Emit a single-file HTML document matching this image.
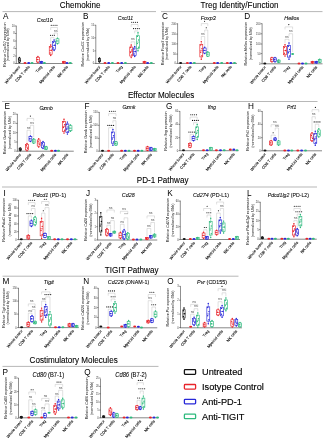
<!DOCTYPE html>
<html><head><meta charset="utf-8"><style>
html,body{margin:0;padding:0;background:#fff;}
svg{display:block;font-family:"Liberation Sans", sans-serif;will-change:transform;filter:blur(0.3px);}
</style></head><body>
<svg width="324" height="440" viewBox="0 0 324 440">
<rect width="324" height="440" fill="#fff"/>
<text transform="translate(80.15,7.70) scale(1,1.18)" font-size="8.1" text-anchor="middle" fill="#000" stroke="#000" stroke-width="0.08">Chemokine</text>
<line x1="2.50" y1="11.60" x2="156.00" y2="11.60" stroke="#9a9a9a" stroke-width="0.7"/>
<text transform="translate(239.55,7.70) scale(1,1.18)" font-size="8.1" text-anchor="middle" fill="#000" stroke="#000" stroke-width="0.08">Treg Identity/Function</text>
<line x1="161.00" y1="11.60" x2="322.50" y2="11.60" stroke="#9a9a9a" stroke-width="0.7"/>
<text transform="translate(161.10,97.50) scale(1,1.18)" font-size="8.1" text-anchor="middle" fill="#000" stroke="#000" stroke-width="0.08">Effector Molecules</text>
<line x1="2.00" y1="101.50" x2="317.50" y2="101.50" stroke="#9a9a9a" stroke-width="0.7"/>
<text transform="translate(162.60,183.40) scale(1,1.18)" font-size="8.1" text-anchor="middle" fill="#000" stroke="#000" stroke-width="0.08">PD-1 Pathway</text>
<line x1="2.00" y1="187.00" x2="317.00" y2="187.00" stroke="#9a9a9a" stroke-width="0.7"/>
<text transform="translate(131.60,272.60) scale(1,1.18)" font-size="8.1" text-anchor="middle" fill="#000" stroke="#000" stroke-width="0.08">TIGIT Pathway</text>
<line x1="2.50" y1="276.20" x2="238.50" y2="276.20" stroke="#9a9a9a" stroke-width="0.7"/>
<text transform="translate(73.65,363.40) scale(1,1.18)" font-size="8.1" text-anchor="middle" fill="#000" stroke="#000" stroke-width="0.08">Costimulatory Molecules</text>
<line x1="2.50" y1="366.40" x2="158.50" y2="366.40" stroke="#9a9a9a" stroke-width="0.7"/>
<text x="3.00" y="19.00" font-size="8.2" text-anchor="start" fill="#000">A</text>
<text transform="translate(44.60,21.60) scale(1,1.1)" font-size="5.2" text-anchor="middle" fill="#000" stroke="#000" stroke-width="0.07"><tspan font-style="italic">Cxcl10</tspan></text>
<line x1="16.30" y1="25.70" x2="16.30" y2="63.80" stroke="#444" stroke-width="0.6"/>
<line x1="16.30" y1="63.50" x2="72.50" y2="63.50" stroke="#555" stroke-width="0.7"/>
<line x1="14.90" y1="26.00" x2="16.30" y2="26.00" stroke="#222" stroke-width="0.5"/>
<text x="14.60" y="26.95" font-size="2.6" text-anchor="end" fill="#333">10</text>
<line x1="14.90" y1="33.50" x2="16.30" y2="33.50" stroke="#222" stroke-width="0.5"/>
<text x="14.60" y="34.45" font-size="2.6" text-anchor="end" fill="#333">8</text>
<line x1="14.90" y1="41.00" x2="16.30" y2="41.00" stroke="#222" stroke-width="0.5"/>
<text x="14.60" y="41.95" font-size="2.6" text-anchor="end" fill="#333">6</text>
<line x1="14.90" y1="48.50" x2="16.30" y2="48.50" stroke="#222" stroke-width="0.5"/>
<text x="14.60" y="49.45" font-size="2.6" text-anchor="end" fill="#333">4</text>
<line x1="14.90" y1="56.00" x2="16.30" y2="56.00" stroke="#222" stroke-width="0.5"/>
<text x="14.60" y="56.95" font-size="2.6" text-anchor="end" fill="#333">2</text>
<line x1="14.90" y1="63.50" x2="16.30" y2="63.50" stroke="#222" stroke-width="0.5"/>
<text x="14.60" y="64.45" font-size="2.6" text-anchor="end" fill="#333">0</text>
<text transform="translate(5.60,44.75) rotate(-90)" font-size="3.7" text-anchor="middle" fill="#111">Relative <tspan font-style="italic">Cxcl10</tspan> expression</text>
<text transform="translate(9.30,44.75) rotate(-90)" font-size="3.7" text-anchor="middle" fill="#111">(normalized by <tspan font-style="italic">Ubb</tspan>)</text>
<text transform="translate(20.60,67.00) rotate(-50)" font-size="3.9" text-anchor="end" fill="#000" stroke="#000" stroke-width="0.1">Whole tumor</text>
<text transform="translate(29.90,67.00) rotate(-50)" font-size="3.9" text-anchor="end" fill="#000" stroke="#000" stroke-width="0.1">CD8 T cells</text>
<text transform="translate(42.50,67.00) rotate(-50)" font-size="3.9" text-anchor="end" fill="#000" stroke="#000" stroke-width="0.1">Treg</text>
<text transform="translate(55.30,67.00) rotate(-50)" font-size="3.9" text-anchor="end" fill="#000" stroke="#000" stroke-width="0.1">Myeloid cells</text>
<text transform="translate(68.20,67.00) rotate(-50)" font-size="3.9" text-anchor="end" fill="#000" stroke="#000" stroke-width="0.1">NK cells</text>
<line x1="50.70" y1="27.50" x2="57.50" y2="27.50" stroke="#b4b4b4" stroke-width="0.4"/>
<line x1="50.70" y1="27.50" x2="50.70" y2="30.00" stroke="#b4b4b4" stroke-width="0.4"/>
<line x1="57.50" y1="27.50" x2="57.50" y2="30.00" stroke="#b4b4b4" stroke-width="0.4"/>
<circle cx="51.25" cy="25.20" r="0.56" fill="#000"/>
<circle cx="53.15" cy="25.20" r="0.56" fill="#000"/>
<circle cx="55.05" cy="25.20" r="0.56" fill="#000"/>
<circle cx="56.95" cy="25.20" r="0.56" fill="#000"/>
<line x1="54.10" y1="33.00" x2="57.50" y2="33.00" stroke="#b4b4b4" stroke-width="0.4"/>
<line x1="54.10" y1="33.00" x2="54.10" y2="35.50" stroke="#b4b4b4" stroke-width="0.4"/>
<line x1="57.50" y1="33.00" x2="57.50" y2="36.60" stroke="#b4b4b4" stroke-width="0.4"/>
<text x="55.80" y="31.50" font-size="3.3" text-anchor="middle" fill="#444">ns</text>
<line x1="50.70" y1="37.60" x2="54.10" y2="37.60" stroke="#b4b4b4" stroke-width="0.4"/>
<line x1="50.70" y1="37.60" x2="50.70" y2="43.50" stroke="#b4b4b4" stroke-width="0.4"/>
<line x1="54.10" y1="37.60" x2="54.10" y2="38.60" stroke="#b4b4b4" stroke-width="0.4"/>
<circle cx="50.50" cy="35.30" r="0.56" fill="#000"/>
<circle cx="52.40" cy="35.30" r="0.56" fill="#000"/>
<circle cx="54.30" cy="35.30" r="0.56" fill="#000"/>
<line x1="19.40" y1="57.00" x2="19.40" y2="63.00" stroke="#111111" stroke-width="0.5"/>
<rect x="18.30" y="58.08" width="2.2" height="4.02" fill="#fff" stroke="#111111" stroke-width="0.65"/>
<line x1="18.30" y1="60.09" x2="20.50" y2="60.09" stroke="#111111" stroke-width="0.6"/>
<circle cx="19.40" cy="57.50" r="0.72" fill="#111111"/>
<circle cx="18.80" cy="59.17" r="0.72" fill="#111111"/>
<circle cx="20.00" cy="60.83" r="0.72" fill="#111111"/>
<circle cx="19.40" cy="62.50" r="0.72" fill="#111111"/>
<ellipse cx="25.00" cy="63.10" rx="1.5" ry="1.0" fill="#e8242b"/>
<ellipse cx="28.70" cy="63.10" rx="1.5" ry="1.0" fill="#2828d8"/>
<ellipse cx="32.00" cy="63.10" rx="1.5" ry="1.0" fill="#2fba7e"/>
<line x1="37.90" y1="56.00" x2="37.90" y2="63.00" stroke="#e8242b" stroke-width="0.5"/>
<rect x="36.45" y="57.26" width="2.9" height="4.69" fill="#fff" stroke="#e8242b" stroke-width="0.65"/>
<line x1="36.45" y1="59.61" x2="39.35" y2="59.61" stroke="#e8242b" stroke-width="0.6"/>
<circle cx="37.90" cy="56.50" r="0.72" fill="#e8242b"/>
<circle cx="37.30" cy="59.50" r="0.72" fill="#e8242b"/>
<circle cx="37.90" cy="62.50" r="0.72" fill="#e8242b"/>
<line x1="41.30" y1="61.00" x2="41.30" y2="63.50" stroke="#2828d8" stroke-width="0.5"/>
<rect x="39.85" y="61.45" width="2.9" height="1.67" fill="#fff" stroke="#2828d8" stroke-width="0.65"/>
<line x1="39.85" y1="62.29" x2="42.75" y2="62.29" stroke="#2828d8" stroke-width="0.6"/>
<circle cx="41.30" cy="61.50" r="0.72" fill="#2828d8"/>
<circle cx="40.70" cy="62.25" r="0.72" fill="#2828d8"/>
<circle cx="41.30" cy="63.00" r="0.72" fill="#2828d8"/>
<ellipse cx="44.40" cy="63.10" rx="1.5" ry="1.0" fill="#2fba7e"/>
<line x1="50.70" y1="44.50" x2="50.70" y2="56.00" stroke="#e8242b" stroke-width="0.5"/>
<rect x="49.25" y="46.57" width="2.9" height="7.70" fill="#fff" stroke="#e8242b" stroke-width="0.65"/>
<line x1="49.25" y1="50.42" x2="52.15" y2="50.42" stroke="#e8242b" stroke-width="0.6"/>
<circle cx="50.70" cy="45.00" r="0.72" fill="#e8242b"/>
<circle cx="50.10" cy="47.62" r="0.72" fill="#e8242b"/>
<circle cx="51.30" cy="50.25" r="0.72" fill="#e8242b"/>
<circle cx="50.10" cy="52.88" r="0.72" fill="#e8242b"/>
<circle cx="50.70" cy="55.50" r="0.72" fill="#e8242b"/>
<line x1="54.10" y1="39.50" x2="54.10" y2="51.00" stroke="#2828d8" stroke-width="0.5"/>
<rect x="52.65" y="41.57" width="2.9" height="7.70" fill="#fff" stroke="#2828d8" stroke-width="0.65"/>
<line x1="52.65" y1="45.42" x2="55.55" y2="45.42" stroke="#2828d8" stroke-width="0.6"/>
<circle cx="54.10" cy="40.00" r="0.72" fill="#2828d8"/>
<circle cx="53.50" cy="42.62" r="0.72" fill="#2828d8"/>
<circle cx="54.70" cy="45.25" r="0.72" fill="#2828d8"/>
<circle cx="53.50" cy="47.88" r="0.72" fill="#2828d8"/>
<circle cx="54.10" cy="50.50" r="0.72" fill="#2828d8"/>
<line x1="57.50" y1="37.60" x2="57.50" y2="44.20" stroke="#2fba7e" stroke-width="0.5"/>
<rect x="56.05" y="38.79" width="2.9" height="4.42" fill="#fff" stroke="#2fba7e" stroke-width="0.65"/>
<line x1="56.05" y1="41.00" x2="58.95" y2="41.00" stroke="#2fba7e" stroke-width="0.6"/>
<circle cx="57.50" cy="38.10" r="0.72" fill="#2fba7e"/>
<circle cx="56.90" cy="40.90" r="0.72" fill="#2fba7e"/>
<circle cx="57.50" cy="43.70" r="0.72" fill="#2fba7e"/>
<line x1="63.90" y1="61.00" x2="63.90" y2="63.50" stroke="#e8242b" stroke-width="0.5"/>
<rect x="62.45" y="61.45" width="2.9" height="1.67" fill="#fff" stroke="#e8242b" stroke-width="0.65"/>
<line x1="62.45" y1="62.29" x2="65.35" y2="62.29" stroke="#e8242b" stroke-width="0.6"/>
<circle cx="63.90" cy="61.50" r="0.72" fill="#e8242b"/>
<circle cx="63.30" cy="62.25" r="0.72" fill="#e8242b"/>
<circle cx="63.90" cy="63.00" r="0.72" fill="#e8242b"/>
<ellipse cx="67.00" cy="63.10" rx="1.5" ry="1.0" fill="#2828d8"/>
<ellipse cx="70.30" cy="63.10" rx="1.5" ry="1.0" fill="#2fba7e"/>
<text x="83.00" y="19.00" font-size="8.2" text-anchor="start" fill="#000">B</text>
<text transform="translate(125.40,20.40) scale(1,1.1)" font-size="5.2" text-anchor="middle" fill="#000" stroke="#000" stroke-width="0.07"><tspan font-style="italic">Cxcl11</tspan></text>
<line x1="95.80" y1="24.90" x2="95.80" y2="63.80" stroke="#444" stroke-width="0.6"/>
<line x1="95.80" y1="63.50" x2="154.75" y2="63.50" stroke="#555" stroke-width="0.7"/>
<line x1="94.40" y1="25.20" x2="95.80" y2="25.20" stroke="#222" stroke-width="0.5"/>
<text x="94.10" y="26.15" font-size="2.6" text-anchor="end" fill="#333">15</text>
<line x1="94.40" y1="37.90" x2="95.80" y2="37.90" stroke="#222" stroke-width="0.5"/>
<text x="94.10" y="38.85" font-size="2.6" text-anchor="end" fill="#333">10</text>
<line x1="94.40" y1="50.90" x2="95.80" y2="50.90" stroke="#222" stroke-width="0.5"/>
<text x="94.10" y="51.85" font-size="2.6" text-anchor="end" fill="#333">5</text>
<line x1="94.40" y1="63.50" x2="95.80" y2="63.50" stroke="#222" stroke-width="0.5"/>
<text x="94.10" y="64.45" font-size="2.6" text-anchor="end" fill="#333">0</text>
<text transform="translate(84.20,44.35) rotate(-90)" font-size="3.7" text-anchor="middle" fill="#111">Relative <tspan font-style="italic">Cxcl11</tspan> expression</text>
<text transform="translate(88.50,44.35) rotate(-90)" font-size="3.7" text-anchor="middle" fill="#111">(normalized by <tspan font-style="italic">Ubb</tspan>)</text>
<text transform="translate(100.70,67.00) rotate(-50)" font-size="3.9" text-anchor="end" fill="#000" stroke="#000" stroke-width="0.1">Whole tumor</text>
<text transform="translate(109.90,67.00) rotate(-50)" font-size="3.9" text-anchor="end" fill="#000" stroke="#000" stroke-width="0.1">CD8 T cells</text>
<text transform="translate(122.90,67.00) rotate(-50)" font-size="3.9" text-anchor="end" fill="#000" stroke="#000" stroke-width="0.1">Treg</text>
<text transform="translate(135.90,67.00) rotate(-50)" font-size="3.9" text-anchor="end" fill="#000" stroke="#000" stroke-width="0.1">Myeloid cells</text>
<text transform="translate(148.80,67.00) rotate(-50)" font-size="3.9" text-anchor="end" fill="#000" stroke="#000" stroke-width="0.1">NK cells</text>
<line x1="131.20" y1="24.50" x2="138.00" y2="24.50" stroke="#b4b4b4" stroke-width="0.4"/>
<line x1="131.20" y1="24.50" x2="131.20" y2="27.00" stroke="#b4b4b4" stroke-width="0.4"/>
<line x1="138.00" y1="24.50" x2="138.00" y2="27.00" stroke="#b4b4b4" stroke-width="0.4"/>
<circle cx="131.75" cy="22.20" r="0.56" fill="#000"/>
<circle cx="133.65" cy="22.20" r="0.56" fill="#000"/>
<circle cx="135.55" cy="22.20" r="0.56" fill="#000"/>
<circle cx="137.45" cy="22.20" r="0.56" fill="#000"/>
<line x1="134.70" y1="30.90" x2="138.00" y2="30.90" stroke="#b4b4b4" stroke-width="0.4"/>
<line x1="134.70" y1="30.90" x2="134.70" y2="33.40" stroke="#b4b4b4" stroke-width="0.4"/>
<line x1="138.00" y1="30.90" x2="138.00" y2="31.90" stroke="#b4b4b4" stroke-width="0.4"/>
<circle cx="133.50" cy="28.60" r="0.56" fill="#000"/>
<circle cx="135.40" cy="28.60" r="0.56" fill="#000"/>
<circle cx="137.30" cy="28.60" r="0.56" fill="#000"/>
<circle cx="139.20" cy="28.60" r="0.56" fill="#000"/>
<line x1="131.20" y1="41.80" x2="134.70" y2="41.80" stroke="#b4b4b4" stroke-width="0.4"/>
<line x1="131.20" y1="41.80" x2="131.20" y2="43.50" stroke="#b4b4b4" stroke-width="0.4"/>
<line x1="134.70" y1="41.80" x2="134.70" y2="45.00" stroke="#b4b4b4" stroke-width="0.4"/>
<text x="132.95" y="40.30" font-size="3.3" text-anchor="middle" fill="#444">ns</text>
<line x1="99.50" y1="57.50" x2="99.50" y2="62.50" stroke="#111111" stroke-width="0.5"/>
<rect x="98.40" y="58.40" width="2.2" height="3.35" fill="#fff" stroke="#111111" stroke-width="0.65"/>
<line x1="98.40" y1="60.08" x2="100.60" y2="60.08" stroke="#111111" stroke-width="0.6"/>
<circle cx="99.50" cy="58.00" r="0.72" fill="#111111"/>
<circle cx="98.90" cy="59.33" r="0.72" fill="#111111"/>
<circle cx="100.10" cy="60.67" r="0.72" fill="#111111"/>
<circle cx="99.50" cy="62.00" r="0.72" fill="#111111"/>
<ellipse cx="105.00" cy="63.10" rx="1.5" ry="1.0" fill="#e8242b"/>
<ellipse cx="108.70" cy="63.10" rx="1.5" ry="1.0" fill="#2828d8"/>
<ellipse cx="112.40" cy="63.10" rx="1.5" ry="1.0" fill="#2fba7e"/>
<ellipse cx="118.00" cy="63.10" rx="1.5" ry="1.0" fill="#e8242b"/>
<ellipse cx="121.70" cy="63.10" rx="1.5" ry="1.0" fill="#2828d8"/>
<ellipse cx="125.40" cy="63.10" rx="1.5" ry="1.0" fill="#2fba7e"/>
<line x1="131.20" y1="44.50" x2="131.20" y2="58.10" stroke="#e8242b" stroke-width="0.5"/>
<rect x="129.75" y="46.95" width="2.9" height="9.11" fill="#fff" stroke="#e8242b" stroke-width="0.65"/>
<line x1="129.75" y1="51.50" x2="132.65" y2="51.50" stroke="#e8242b" stroke-width="0.6"/>
<circle cx="131.20" cy="45.00" r="0.72" fill="#e8242b"/>
<circle cx="130.60" cy="47.52" r="0.72" fill="#e8242b"/>
<circle cx="131.80" cy="50.04" r="0.72" fill="#e8242b"/>
<circle cx="130.60" cy="52.56" r="0.72" fill="#e8242b"/>
<circle cx="131.80" cy="55.08" r="0.72" fill="#e8242b"/>
<circle cx="131.20" cy="57.60" r="0.72" fill="#e8242b"/>
<line x1="134.70" y1="46.00" x2="134.70" y2="57.00" stroke="#2828d8" stroke-width="0.5"/>
<rect x="133.25" y="47.98" width="2.9" height="7.37" fill="#fff" stroke="#2828d8" stroke-width="0.65"/>
<line x1="133.25" y1="51.66" x2="136.15" y2="51.66" stroke="#2828d8" stroke-width="0.6"/>
<circle cx="134.70" cy="46.50" r="0.72" fill="#2828d8"/>
<circle cx="134.10" cy="49.00" r="0.72" fill="#2828d8"/>
<circle cx="135.30" cy="51.50" r="0.72" fill="#2828d8"/>
<circle cx="134.10" cy="54.00" r="0.72" fill="#2828d8"/>
<circle cx="134.70" cy="56.50" r="0.72" fill="#2828d8"/>
<line x1="138.00" y1="32.30" x2="138.00" y2="51.30" stroke="#2fba7e" stroke-width="0.5"/>
<rect x="136.55" y="35.72" width="2.9" height="12.73" fill="#fff" stroke="#2fba7e" stroke-width="0.65"/>
<line x1="136.55" y1="42.08" x2="139.45" y2="42.08" stroke="#2fba7e" stroke-width="0.6"/>
<circle cx="138.00" cy="32.80" r="0.72" fill="#2fba7e"/>
<circle cx="137.40" cy="36.40" r="0.72" fill="#2fba7e"/>
<circle cx="138.60" cy="40.00" r="0.72" fill="#2fba7e"/>
<circle cx="137.40" cy="43.60" r="0.72" fill="#2fba7e"/>
<circle cx="138.60" cy="47.20" r="0.72" fill="#2fba7e"/>
<circle cx="138.00" cy="50.80" r="0.72" fill="#2fba7e"/>
<line x1="144.50" y1="61.00" x2="144.50" y2="63.50" stroke="#e8242b" stroke-width="0.5"/>
<rect x="143.05" y="61.45" width="2.9" height="1.67" fill="#fff" stroke="#e8242b" stroke-width="0.65"/>
<line x1="143.05" y1="62.29" x2="145.95" y2="62.29" stroke="#e8242b" stroke-width="0.6"/>
<circle cx="144.50" cy="61.50" r="0.72" fill="#e8242b"/>
<circle cx="143.90" cy="62.25" r="0.72" fill="#e8242b"/>
<circle cx="144.50" cy="63.00" r="0.72" fill="#e8242b"/>
<ellipse cx="147.60" cy="63.10" rx="1.5" ry="1.0" fill="#2828d8"/>
<ellipse cx="151.30" cy="63.10" rx="1.5" ry="1.0" fill="#2fba7e"/>
<text x="162.00" y="19.00" font-size="8.2" text-anchor="start" fill="#000">C</text>
<text transform="translate(208.25,19.80) scale(1,1.1)" font-size="5.4" text-anchor="middle" fill="#000" stroke="#000" stroke-width="0.07"><tspan font-style="italic">Foxp3</tspan></text>
<line x1="177.60" y1="23.30" x2="177.60" y2="63.70" stroke="#444" stroke-width="0.6"/>
<line x1="177.60" y1="63.40" x2="237.00" y2="63.40" stroke="#555" stroke-width="0.7"/>
<line x1="176.20" y1="23.90" x2="177.60" y2="23.90" stroke="#222" stroke-width="0.5"/>
<text x="175.90" y="24.85" font-size="2.6" text-anchor="end" fill="#333">200</text>
<line x1="176.20" y1="34.10" x2="177.60" y2="34.10" stroke="#222" stroke-width="0.5"/>
<text x="175.90" y="35.05" font-size="2.6" text-anchor="end" fill="#333">150</text>
<line x1="176.20" y1="43.90" x2="177.60" y2="43.90" stroke="#222" stroke-width="0.5"/>
<text x="175.90" y="44.85" font-size="2.6" text-anchor="end" fill="#333">100</text>
<line x1="176.20" y1="54.10" x2="177.60" y2="54.10" stroke="#222" stroke-width="0.5"/>
<text x="175.90" y="55.05" font-size="2.6" text-anchor="end" fill="#333">50</text>
<line x1="176.20" y1="63.40" x2="177.60" y2="63.40" stroke="#222" stroke-width="0.5"/>
<text x="175.90" y="64.35" font-size="2.6" text-anchor="end" fill="#333">0</text>
<text transform="translate(163.50,43.50) rotate(-90)" font-size="3.7" text-anchor="middle" fill="#111">Relative <tspan font-style="italic">Foxp3</tspan> expression</text>
<text transform="translate(168.20,43.50) rotate(-90)" font-size="3.7" text-anchor="middle" fill="#111">(normalized by <tspan font-style="italic">Ubb</tspan>)</text>
<text transform="translate(181.80,66.90) rotate(-50)" font-size="3.9" text-anchor="end" fill="#000" stroke="#000" stroke-width="0.1">Whole tumor</text>
<text transform="translate(191.80,66.90) rotate(-50)" font-size="3.9" text-anchor="end" fill="#000" stroke="#000" stroke-width="0.1">CD8 T cells</text>
<text transform="translate(205.90,66.90) rotate(-50)" font-size="3.9" text-anchor="end" fill="#000" stroke="#000" stroke-width="0.1">Treg</text>
<text transform="translate(218.80,66.90) rotate(-50)" font-size="3.9" text-anchor="end" fill="#000" stroke="#000" stroke-width="0.1">Myeloid cells</text>
<text transform="translate(232.00,66.90) rotate(-50)" font-size="3.9" text-anchor="end" fill="#000" stroke="#000" stroke-width="0.1">NK cells</text>
<line x1="201.30" y1="23.60" x2="207.80" y2="23.60" stroke="#b4b4b4" stroke-width="0.4"/>
<line x1="201.30" y1="23.60" x2="201.30" y2="26.10" stroke="#b4b4b4" stroke-width="0.4"/>
<line x1="207.80" y1="23.60" x2="207.80" y2="26.10" stroke="#b4b4b4" stroke-width="0.4"/>
<circle cx="204.55" cy="21.30" r="0.56" fill="#000"/>
<line x1="204.70" y1="30.00" x2="207.80" y2="30.00" stroke="#b4b4b4" stroke-width="0.4"/>
<line x1="204.70" y1="30.00" x2="204.70" y2="32.50" stroke="#b4b4b4" stroke-width="0.4"/>
<line x1="207.80" y1="30.00" x2="207.80" y2="50.30" stroke="#b4b4b4" stroke-width="0.4"/>
<circle cx="206.25" cy="27.70" r="0.56" fill="#000"/>
<line x1="201.30" y1="36.50" x2="204.70" y2="36.50" stroke="#b4b4b4" stroke-width="0.4"/>
<line x1="201.30" y1="36.50" x2="201.30" y2="40.10" stroke="#b4b4b4" stroke-width="0.4"/>
<line x1="204.70" y1="36.50" x2="204.70" y2="45.70" stroke="#b4b4b4" stroke-width="0.4"/>
<text x="203.00" y="35.00" font-size="3.3" text-anchor="middle" fill="#444">ns</text>
<ellipse cx="180.60" cy="63.00" rx="1.5" ry="1.0" fill="#111111"/>
<ellipse cx="187.40" cy="63.00" rx="1.5" ry="1.0" fill="#e8242b"/>
<ellipse cx="190.60" cy="63.00" rx="1.5" ry="1.0" fill="#2828d8"/>
<ellipse cx="194.30" cy="63.00" rx="1.5" ry="1.0" fill="#2fba7e"/>
<line x1="201.30" y1="41.10" x2="201.30" y2="59.70" stroke="#e8242b" stroke-width="0.5"/>
<rect x="199.85" y="44.45" width="2.9" height="12.46" fill="#fff" stroke="#e8242b" stroke-width="0.65"/>
<line x1="199.85" y1="50.68" x2="202.75" y2="50.68" stroke="#e8242b" stroke-width="0.6"/>
<circle cx="201.30" cy="41.60" r="0.72" fill="#e8242b"/>
<circle cx="200.70" cy="45.12" r="0.72" fill="#e8242b"/>
<circle cx="201.90" cy="48.64" r="0.72" fill="#e8242b"/>
<circle cx="200.70" cy="52.16" r="0.72" fill="#e8242b"/>
<circle cx="201.90" cy="55.68" r="0.72" fill="#e8242b"/>
<circle cx="201.30" cy="59.20" r="0.72" fill="#e8242b"/>
<line x1="204.70" y1="46.70" x2="204.70" y2="54.10" stroke="#2828d8" stroke-width="0.5"/>
<rect x="203.25" y="48.03" width="2.9" height="4.96" fill="#fff" stroke="#2828d8" stroke-width="0.65"/>
<line x1="203.25" y1="50.51" x2="206.15" y2="50.51" stroke="#2828d8" stroke-width="0.6"/>
<circle cx="204.70" cy="47.20" r="0.72" fill="#2828d8"/>
<circle cx="204.10" cy="50.40" r="0.72" fill="#2828d8"/>
<circle cx="204.70" cy="53.60" r="0.72" fill="#2828d8"/>
<line x1="207.80" y1="51.30" x2="207.80" y2="56.90" stroke="#2fba7e" stroke-width="0.5"/>
<rect x="206.35" y="52.31" width="2.9" height="3.75" fill="#fff" stroke="#2fba7e" stroke-width="0.65"/>
<line x1="206.35" y1="54.18" x2="209.25" y2="54.18" stroke="#2fba7e" stroke-width="0.6"/>
<circle cx="207.80" cy="51.80" r="0.72" fill="#2fba7e"/>
<circle cx="207.20" cy="54.10" r="0.72" fill="#2fba7e"/>
<circle cx="207.80" cy="56.40" r="0.72" fill="#2fba7e"/>
<ellipse cx="214.30" cy="63.00" rx="1.5" ry="1.0" fill="#e8242b"/>
<ellipse cx="217.60" cy="63.00" rx="1.5" ry="1.0" fill="#2828d8"/>
<ellipse cx="221.70" cy="63.00" rx="1.5" ry="1.0" fill="#2fba7e"/>
<ellipse cx="227.30" cy="63.00" rx="1.5" ry="1.0" fill="#e8242b"/>
<ellipse cx="230.80" cy="63.00" rx="1.5" ry="1.0" fill="#2828d8"/>
<ellipse cx="234.50" cy="63.00" rx="1.5" ry="1.0" fill="#2fba7e"/>
<text x="244.30" y="19.00" font-size="8.2" text-anchor="start" fill="#000">D</text>
<text transform="translate(291.75,19.80) scale(1,1.1)" font-size="5.4" text-anchor="middle" fill="#000" stroke="#000" stroke-width="0.07"><tspan font-style="italic">Helios</tspan></text>
<line x1="262.10" y1="23.40" x2="262.10" y2="64.10" stroke="#444" stroke-width="0.6"/>
<line x1="262.10" y1="63.80" x2="322.50" y2="63.80" stroke="#555" stroke-width="0.7"/>
<line x1="260.70" y1="23.70" x2="262.10" y2="23.70" stroke="#222" stroke-width="0.5"/>
<text x="260.40" y="24.65" font-size="2.6" text-anchor="end" fill="#333">200</text>
<line x1="260.70" y1="33.80" x2="262.10" y2="33.80" stroke="#222" stroke-width="0.5"/>
<text x="260.40" y="34.75" font-size="2.6" text-anchor="end" fill="#333">150</text>
<line x1="260.70" y1="44.00" x2="262.10" y2="44.00" stroke="#222" stroke-width="0.5"/>
<text x="260.40" y="44.95" font-size="2.6" text-anchor="end" fill="#333">100</text>
<line x1="260.70" y1="53.60" x2="262.10" y2="53.60" stroke="#222" stroke-width="0.5"/>
<text x="260.40" y="54.55" font-size="2.6" text-anchor="end" fill="#333">50</text>
<line x1="260.70" y1="63.80" x2="262.10" y2="63.80" stroke="#222" stroke-width="0.5"/>
<text x="260.40" y="64.75" font-size="2.6" text-anchor="end" fill="#333">0</text>
<text transform="translate(247.40,43.75) rotate(-90)" font-size="3.7" text-anchor="middle" fill="#111">Relative <tspan font-style="italic">Helios</tspan> expression</text>
<text transform="translate(251.70,43.75) rotate(-90)" font-size="3.7" text-anchor="middle" fill="#111">(normalized by <tspan font-style="italic">Ubb</tspan>)</text>
<text transform="translate(266.00,67.30) rotate(-50)" font-size="3.9" text-anchor="end" fill="#000" stroke="#000" stroke-width="0.1">Whole tumor</text>
<text transform="translate(276.20,67.30) rotate(-50)" font-size="3.9" text-anchor="end" fill="#000" stroke="#000" stroke-width="0.1">CD8 T cells</text>
<text transform="translate(290.20,67.30) rotate(-50)" font-size="3.9" text-anchor="end" fill="#000" stroke="#000" stroke-width="0.1">Treg</text>
<text transform="translate(303.70,67.30) rotate(-50)" font-size="3.9" text-anchor="end" fill="#000" stroke="#000" stroke-width="0.1">Myeloid cells</text>
<text transform="translate(317.50,67.30) rotate(-50)" font-size="3.9" text-anchor="end" fill="#000" stroke="#000" stroke-width="0.1">NK cells</text>
<line x1="285.00" y1="26.90" x2="292.60" y2="26.90" stroke="#b4b4b4" stroke-width="0.4"/>
<line x1="285.00" y1="26.90" x2="285.00" y2="29.40" stroke="#b4b4b4" stroke-width="0.4"/>
<line x1="292.60" y1="26.90" x2="292.60" y2="29.40" stroke="#b4b4b4" stroke-width="0.4"/>
<circle cx="288.80" cy="24.60" r="0.56" fill="#000"/>
<line x1="289.00" y1="33.70" x2="292.60" y2="33.70" stroke="#b4b4b4" stroke-width="0.4"/>
<line x1="289.00" y1="33.70" x2="289.00" y2="36.20" stroke="#b4b4b4" stroke-width="0.4"/>
<line x1="292.60" y1="33.70" x2="292.60" y2="52.00" stroke="#b4b4b4" stroke-width="0.4"/>
<text x="290.80" y="32.20" font-size="3.3" text-anchor="middle" fill="#444">ns</text>
<line x1="285.00" y1="39.30" x2="289.00" y2="39.30" stroke="#b4b4b4" stroke-width="0.4"/>
<line x1="285.00" y1="39.30" x2="285.00" y2="43.30" stroke="#b4b4b4" stroke-width="0.4"/>
<line x1="289.00" y1="39.30" x2="289.00" y2="41.50" stroke="#b4b4b4" stroke-width="0.4"/>
<text x="287.00" y="37.80" font-size="3.3" text-anchor="middle" fill="#444">ns</text>
<ellipse cx="264.80" cy="63.40" rx="1.5" ry="1.0" fill="#111111"/>
<line x1="271.90" y1="56.90" x2="271.90" y2="62.40" stroke="#e8242b" stroke-width="0.5"/>
<rect x="270.45" y="57.89" width="2.9" height="3.68" fill="#fff" stroke="#e8242b" stroke-width="0.65"/>
<line x1="270.45" y1="59.73" x2="273.35" y2="59.73" stroke="#e8242b" stroke-width="0.6"/>
<circle cx="271.90" cy="57.40" r="0.72" fill="#e8242b"/>
<circle cx="271.30" cy="59.65" r="0.72" fill="#e8242b"/>
<circle cx="271.90" cy="61.90" r="0.72" fill="#e8242b"/>
<line x1="275.00" y1="57.00" x2="275.00" y2="62.40" stroke="#2828d8" stroke-width="0.5"/>
<rect x="273.55" y="57.97" width="2.9" height="3.62" fill="#fff" stroke="#2828d8" stroke-width="0.65"/>
<line x1="273.55" y1="59.78" x2="276.45" y2="59.78" stroke="#2828d8" stroke-width="0.6"/>
<circle cx="275.00" cy="57.50" r="0.72" fill="#2828d8"/>
<circle cx="274.40" cy="59.70" r="0.72" fill="#2828d8"/>
<circle cx="275.00" cy="61.90" r="0.72" fill="#2828d8"/>
<line x1="278.70" y1="59.50" x2="278.70" y2="63.00" stroke="#2fba7e" stroke-width="0.5"/>
<rect x="277.25" y="60.13" width="2.9" height="2.34" fill="#fff" stroke="#2fba7e" stroke-width="0.65"/>
<line x1="277.25" y1="61.30" x2="280.15" y2="61.30" stroke="#2fba7e" stroke-width="0.6"/>
<circle cx="278.70" cy="60.00" r="0.72" fill="#2fba7e"/>
<circle cx="278.10" cy="61.25" r="0.72" fill="#2fba7e"/>
<circle cx="278.70" cy="62.50" r="0.72" fill="#2fba7e"/>
<line x1="285.00" y1="44.30" x2="285.00" y2="56.60" stroke="#e8242b" stroke-width="0.5"/>
<rect x="283.55" y="46.51" width="2.9" height="8.24" fill="#fff" stroke="#e8242b" stroke-width="0.65"/>
<line x1="283.55" y1="50.63" x2="286.45" y2="50.63" stroke="#e8242b" stroke-width="0.6"/>
<circle cx="285.00" cy="44.80" r="0.72" fill="#e8242b"/>
<circle cx="284.40" cy="47.62" r="0.72" fill="#e8242b"/>
<circle cx="285.60" cy="50.45" r="0.72" fill="#e8242b"/>
<circle cx="284.40" cy="53.27" r="0.72" fill="#e8242b"/>
<circle cx="285.00" cy="56.10" r="0.72" fill="#e8242b"/>
<line x1="289.00" y1="42.50" x2="289.00" y2="59.70" stroke="#2828d8" stroke-width="0.5"/>
<rect x="287.55" y="45.60" width="2.9" height="11.52" fill="#fff" stroke="#2828d8" stroke-width="0.65"/>
<line x1="287.55" y1="51.36" x2="290.45" y2="51.36" stroke="#2828d8" stroke-width="0.6"/>
<circle cx="289.00" cy="43.00" r="0.72" fill="#2828d8"/>
<circle cx="288.40" cy="46.24" r="0.72" fill="#2828d8"/>
<circle cx="289.60" cy="49.48" r="0.72" fill="#2828d8"/>
<circle cx="288.40" cy="52.72" r="0.72" fill="#2828d8"/>
<circle cx="289.60" cy="55.96" r="0.72" fill="#2828d8"/>
<circle cx="289.00" cy="59.20" r="0.72" fill="#2828d8"/>
<ellipse cx="292.60" cy="54.00" rx="1.5" ry="1.00" fill="#2fba7e"/>
<ellipse cx="299.00" cy="63.40" rx="1.5" ry="1.0" fill="#e8242b"/>
<ellipse cx="302.50" cy="63.40" rx="1.5" ry="1.0" fill="#2828d8"/>
<ellipse cx="306.00" cy="63.40" rx="1.5" ry="1.0" fill="#2fba7e"/>
<line x1="312.50" y1="61.00" x2="312.50" y2="63.50" stroke="#e8242b" stroke-width="0.5"/>
<rect x="311.05" y="61.45" width="2.9" height="1.67" fill="#fff" stroke="#e8242b" stroke-width="0.65"/>
<line x1="311.05" y1="62.29" x2="313.95" y2="62.29" stroke="#e8242b" stroke-width="0.6"/>
<circle cx="312.50" cy="61.50" r="0.72" fill="#e8242b"/>
<circle cx="311.90" cy="62.25" r="0.72" fill="#e8242b"/>
<circle cx="312.50" cy="63.00" r="0.72" fill="#e8242b"/>
<line x1="316.30" y1="61.00" x2="316.30" y2="63.50" stroke="#2828d8" stroke-width="0.5"/>
<rect x="314.85" y="61.45" width="2.9" height="1.67" fill="#fff" stroke="#2828d8" stroke-width="0.65"/>
<line x1="314.85" y1="62.29" x2="317.75" y2="62.29" stroke="#2828d8" stroke-width="0.6"/>
<circle cx="316.30" cy="61.50" r="0.72" fill="#2828d8"/>
<circle cx="315.70" cy="62.25" r="0.72" fill="#2828d8"/>
<circle cx="316.30" cy="63.00" r="0.72" fill="#2828d8"/>
<line x1="319.70" y1="58.80" x2="319.70" y2="63.00" stroke="#2fba7e" stroke-width="0.5"/>
<rect x="318.25" y="59.56" width="2.9" height="2.81" fill="#fff" stroke="#2fba7e" stroke-width="0.65"/>
<line x1="318.25" y1="60.96" x2="321.15" y2="60.96" stroke="#2fba7e" stroke-width="0.6"/>
<circle cx="319.70" cy="59.30" r="0.72" fill="#2fba7e"/>
<circle cx="319.10" cy="60.90" r="0.72" fill="#2fba7e"/>
<circle cx="319.70" cy="62.50" r="0.72" fill="#2fba7e"/>
<text x="4.50" y="109.40" font-size="8.2" text-anchor="start" fill="#000">E</text>
<text transform="translate(46.10,109.80) scale(1,1.1)" font-size="5.0" text-anchor="middle" fill="#000" stroke="#000" stroke-width="0.07"><tspan font-style="italic">Gzmb</tspan></text>
<line x1="17.40" y1="113.90" x2="17.40" y2="151.50" stroke="#444" stroke-width="0.6"/>
<line x1="17.40" y1="151.20" x2="73.75" y2="151.20" stroke="#555" stroke-width="0.7"/>
<line x1="16.00" y1="114.20" x2="17.40" y2="114.20" stroke="#222" stroke-width="0.5"/>
<text x="15.70" y="115.15" font-size="2.6" text-anchor="end" fill="#333">20</text>
<line x1="16.00" y1="123.40" x2="17.40" y2="123.40" stroke="#222" stroke-width="0.5"/>
<text x="15.70" y="124.35" font-size="2.6" text-anchor="end" fill="#333">15</text>
<line x1="16.00" y1="132.70" x2="17.40" y2="132.70" stroke="#222" stroke-width="0.5"/>
<text x="15.70" y="133.65" font-size="2.6" text-anchor="end" fill="#333">10</text>
<line x1="16.00" y1="142.00" x2="17.40" y2="142.00" stroke="#222" stroke-width="0.5"/>
<text x="15.70" y="142.95" font-size="2.6" text-anchor="end" fill="#333">5</text>
<line x1="16.00" y1="151.20" x2="17.40" y2="151.20" stroke="#222" stroke-width="0.5"/>
<text x="15.70" y="152.15" font-size="2.6" text-anchor="end" fill="#333">0</text>
<text transform="translate(5.70,132.70) rotate(-90)" font-size="3.7" text-anchor="middle" fill="#111">Relative <tspan font-style="italic">Gzmb</tspan> expression</text>
<text transform="translate(10.50,132.70) rotate(-90)" font-size="3.7" text-anchor="middle" fill="#111">(normalized by <tspan font-style="italic">Ubb</tspan>)</text>
<text transform="translate(21.40,154.70) rotate(-50)" font-size="3.9" text-anchor="end" fill="#000" stroke="#000" stroke-width="0.1">Whole tumor</text>
<text transform="translate(31.60,154.70) rotate(-50)" font-size="3.9" text-anchor="end" fill="#000" stroke="#000" stroke-width="0.1">CD8 T cells</text>
<text transform="translate(44.20,154.70) rotate(-50)" font-size="3.9" text-anchor="end" fill="#000" stroke="#000" stroke-width="0.1">Treg</text>
<text transform="translate(56.60,154.70) rotate(-50)" font-size="3.9" text-anchor="end" fill="#000" stroke="#000" stroke-width="0.1">Myeloid cells</text>
<text transform="translate(68.60,154.70) rotate(-50)" font-size="3.9" text-anchor="end" fill="#000" stroke="#000" stroke-width="0.1">NK cells</text>
<line x1="27.00" y1="118.40" x2="33.70" y2="118.40" stroke="#b4b4b4" stroke-width="0.4"/>
<line x1="27.00" y1="118.40" x2="27.00" y2="120.90" stroke="#b4b4b4" stroke-width="0.4"/>
<line x1="33.70" y1="118.40" x2="33.70" y2="120.90" stroke="#b4b4b4" stroke-width="0.4"/>
<circle cx="30.35" cy="116.10" r="0.56" fill="#000"/>
<line x1="30.40" y1="125.30" x2="33.70" y2="125.30" stroke="#b4b4b4" stroke-width="0.4"/>
<line x1="30.40" y1="125.30" x2="30.40" y2="127.80" stroke="#b4b4b4" stroke-width="0.4"/>
<line x1="33.70" y1="125.30" x2="33.70" y2="137.30" stroke="#b4b4b4" stroke-width="0.4"/>
<text x="32.05" y="123.80" font-size="3.3" text-anchor="middle" fill="#444">ns</text>
<line x1="27.00" y1="130.30" x2="30.40" y2="130.30" stroke="#b4b4b4" stroke-width="0.4"/>
<line x1="27.00" y1="130.30" x2="27.00" y2="141.90" stroke="#b4b4b4" stroke-width="0.4"/>
<line x1="30.40" y1="130.30" x2="30.40" y2="134.50" stroke="#b4b4b4" stroke-width="0.4"/>
<text x="28.70" y="128.80" font-size="3.3" text-anchor="middle" fill="#444">ns</text>
<line x1="20.20" y1="147.50" x2="20.20" y2="151.20" stroke="#111111" stroke-width="0.5"/>
<rect x="19.10" y="148.17" width="2.2" height="2.48" fill="#fff" stroke="#111111" stroke-width="0.65"/>
<line x1="19.10" y1="149.41" x2="21.30" y2="149.41" stroke="#111111" stroke-width="0.6"/>
<circle cx="20.20" cy="148.00" r="0.72" fill="#111111"/>
<circle cx="19.60" cy="148.90" r="0.72" fill="#111111"/>
<circle cx="20.80" cy="149.80" r="0.72" fill="#111111"/>
<circle cx="20.20" cy="150.70" r="0.72" fill="#111111"/>
<line x1="27.00" y1="142.90" x2="27.00" y2="151.20" stroke="#e8242b" stroke-width="0.5"/>
<rect x="25.55" y="144.39" width="2.9" height="5.56" fill="#fff" stroke="#e8242b" stroke-width="0.65"/>
<line x1="25.55" y1="147.17" x2="28.45" y2="147.17" stroke="#e8242b" stroke-width="0.6"/>
<circle cx="27.00" cy="143.40" r="0.72" fill="#e8242b"/>
<circle cx="26.40" cy="145.83" r="0.72" fill="#e8242b"/>
<circle cx="27.60" cy="148.27" r="0.72" fill="#e8242b"/>
<circle cx="27.00" cy="150.70" r="0.72" fill="#e8242b"/>
<line x1="30.40" y1="135.50" x2="30.40" y2="142.00" stroke="#2828d8" stroke-width="0.5"/>
<rect x="28.95" y="136.67" width="2.9" height="4.36" fill="#fff" stroke="#2828d8" stroke-width="0.65"/>
<line x1="28.95" y1="138.85" x2="31.85" y2="138.85" stroke="#2828d8" stroke-width="0.6"/>
<circle cx="30.40" cy="136.00" r="0.72" fill="#2828d8"/>
<circle cx="29.80" cy="138.75" r="0.72" fill="#2828d8"/>
<circle cx="30.40" cy="141.50" r="0.72" fill="#2828d8"/>
<line x1="33.70" y1="138.30" x2="33.70" y2="143.80" stroke="#2fba7e" stroke-width="0.5"/>
<rect x="32.25" y="139.29" width="2.9" height="3.69" fill="#fff" stroke="#2fba7e" stroke-width="0.65"/>
<line x1="32.25" y1="141.13" x2="35.15" y2="141.13" stroke="#2fba7e" stroke-width="0.6"/>
<circle cx="33.70" cy="138.80" r="0.72" fill="#2fba7e"/>
<circle cx="33.10" cy="141.05" r="0.72" fill="#2fba7e"/>
<circle cx="33.70" cy="143.30" r="0.72" fill="#2fba7e"/>
<line x1="38.70" y1="138.30" x2="38.70" y2="147.50" stroke="#e8242b" stroke-width="0.5"/>
<rect x="37.25" y="139.96" width="2.9" height="6.16" fill="#fff" stroke="#e8242b" stroke-width="0.65"/>
<line x1="37.25" y1="143.04" x2="40.15" y2="143.04" stroke="#e8242b" stroke-width="0.6"/>
<circle cx="38.70" cy="138.80" r="0.72" fill="#e8242b"/>
<circle cx="38.10" cy="141.53" r="0.72" fill="#e8242b"/>
<circle cx="39.30" cy="144.27" r="0.72" fill="#e8242b"/>
<circle cx="38.70" cy="147.00" r="0.72" fill="#e8242b"/>
<line x1="43.00" y1="141.00" x2="43.00" y2="149.00" stroke="#2828d8" stroke-width="0.5"/>
<rect x="41.55" y="142.44" width="2.9" height="5.36" fill="#fff" stroke="#2828d8" stroke-width="0.65"/>
<line x1="41.55" y1="145.12" x2="44.45" y2="145.12" stroke="#2828d8" stroke-width="0.6"/>
<circle cx="43.00" cy="141.50" r="0.72" fill="#2828d8"/>
<circle cx="42.40" cy="143.83" r="0.72" fill="#2828d8"/>
<circle cx="43.60" cy="146.17" r="0.72" fill="#2828d8"/>
<circle cx="43.00" cy="148.50" r="0.72" fill="#2828d8"/>
<line x1="46.10" y1="146.00" x2="46.10" y2="150.00" stroke="#2fba7e" stroke-width="0.5"/>
<rect x="44.65" y="146.72" width="2.9" height="2.68" fill="#fff" stroke="#2fba7e" stroke-width="0.65"/>
<line x1="44.65" y1="148.06" x2="47.55" y2="148.06" stroke="#2fba7e" stroke-width="0.6"/>
<circle cx="46.10" cy="146.50" r="0.72" fill="#2fba7e"/>
<circle cx="45.50" cy="148.00" r="0.72" fill="#2fba7e"/>
<circle cx="46.10" cy="149.50" r="0.72" fill="#2fba7e"/>
<ellipse cx="51.70" cy="150.80" rx="1.5" ry="1.0" fill="#e8242b"/>
<ellipse cx="55.40" cy="150.80" rx="1.5" ry="1.0" fill="#2828d8"/>
<ellipse cx="58.50" cy="150.80" rx="1.5" ry="1.0" fill="#2fba7e"/>
<line x1="64.00" y1="118.80" x2="64.00" y2="133.60" stroke="#e8242b" stroke-width="0.5"/>
<rect x="62.55" y="121.46" width="2.9" height="9.92" fill="#fff" stroke="#e8242b" stroke-width="0.65"/>
<line x1="62.55" y1="126.42" x2="65.45" y2="126.42" stroke="#e8242b" stroke-width="0.6"/>
<circle cx="64.00" cy="119.30" r="0.72" fill="#e8242b"/>
<circle cx="63.40" cy="122.06" r="0.72" fill="#e8242b"/>
<circle cx="64.60" cy="124.82" r="0.72" fill="#e8242b"/>
<circle cx="63.40" cy="127.58" r="0.72" fill="#e8242b"/>
<circle cx="64.60" cy="130.34" r="0.72" fill="#e8242b"/>
<circle cx="64.00" cy="133.10" r="0.72" fill="#e8242b"/>
<line x1="67.40" y1="121.60" x2="67.40" y2="134.60" stroke="#2828d8" stroke-width="0.5"/>
<rect x="65.95" y="123.94" width="2.9" height="8.71" fill="#fff" stroke="#2828d8" stroke-width="0.65"/>
<line x1="65.95" y1="128.30" x2="68.85" y2="128.30" stroke="#2828d8" stroke-width="0.6"/>
<circle cx="67.40" cy="122.10" r="0.72" fill="#2828d8"/>
<circle cx="66.80" cy="124.50" r="0.72" fill="#2828d8"/>
<circle cx="68.00" cy="126.90" r="0.72" fill="#2828d8"/>
<circle cx="66.80" cy="129.30" r="0.72" fill="#2828d8"/>
<circle cx="68.00" cy="131.70" r="0.72" fill="#2828d8"/>
<circle cx="67.40" cy="134.10" r="0.72" fill="#2828d8"/>
<line x1="70.50" y1="124.40" x2="70.50" y2="131.80" stroke="#2fba7e" stroke-width="0.5"/>
<rect x="69.05" y="125.73" width="2.9" height="4.96" fill="#fff" stroke="#2fba7e" stroke-width="0.65"/>
<line x1="69.05" y1="128.21" x2="71.95" y2="128.21" stroke="#2fba7e" stroke-width="0.6"/>
<circle cx="70.50" cy="124.90" r="0.72" fill="#2fba7e"/>
<circle cx="69.90" cy="128.10" r="0.72" fill="#2fba7e"/>
<circle cx="70.50" cy="131.30" r="0.72" fill="#2fba7e"/>
<text x="84.50" y="109.40" font-size="8.2" text-anchor="start" fill="#000">F</text>
<text transform="translate(129.00,109.40) scale(1,1.1)" font-size="5.0" text-anchor="middle" fill="#000" stroke="#000" stroke-width="0.07"><tspan font-style="italic">Gzmk</tspan></text>
<line x1="99.30" y1="112.00" x2="99.30" y2="151.50" stroke="#444" stroke-width="0.6"/>
<line x1="99.30" y1="151.20" x2="157.25" y2="151.20" stroke="#555" stroke-width="0.7"/>
<line x1="97.90" y1="112.30" x2="99.30" y2="112.30" stroke="#222" stroke-width="0.5"/>
<text x="97.60" y="113.25" font-size="2.6" text-anchor="end" fill="#333">150</text>
<line x1="97.90" y1="125.30" x2="99.30" y2="125.30" stroke="#222" stroke-width="0.5"/>
<text x="97.60" y="126.25" font-size="2.6" text-anchor="end" fill="#333">100</text>
<line x1="97.90" y1="138.30" x2="99.30" y2="138.30" stroke="#222" stroke-width="0.5"/>
<text x="97.60" y="139.25" font-size="2.6" text-anchor="end" fill="#333">50</text>
<line x1="97.90" y1="151.20" x2="99.30" y2="151.20" stroke="#222" stroke-width="0.5"/>
<text x="97.60" y="152.15" font-size="2.6" text-anchor="end" fill="#333">0</text>
<text transform="translate(86.90,131.75) rotate(-90)" font-size="3.7" text-anchor="middle" fill="#111">Relative <tspan font-style="italic">Gzmk</tspan> expression</text>
<text transform="translate(91.60,131.75) rotate(-90)" font-size="3.7" text-anchor="middle" fill="#111">(normalized by <tspan font-style="italic">Ubb</tspan>)</text>
<text transform="translate(103.70,154.70) rotate(-50)" font-size="3.9" text-anchor="end" fill="#000" stroke="#000" stroke-width="0.1">Whole tumor</text>
<text transform="translate(114.10,154.70) rotate(-50)" font-size="3.9" text-anchor="end" fill="#000" stroke="#000" stroke-width="0.1">CD8 T cells</text>
<text transform="translate(126.50,154.70) rotate(-50)" font-size="3.9" text-anchor="end" fill="#000" stroke="#000" stroke-width="0.1">Treg</text>
<text transform="translate(139.40,154.70) rotate(-50)" font-size="3.9" text-anchor="end" fill="#000" stroke="#000" stroke-width="0.1">Myeloid cells</text>
<text transform="translate(152.20,154.70) rotate(-50)" font-size="3.9" text-anchor="end" fill="#000" stroke="#000" stroke-width="0.1">NK cells</text>
<line x1="108.60" y1="113.60" x2="116.00" y2="113.60" stroke="#b4b4b4" stroke-width="0.4"/>
<line x1="108.60" y1="113.60" x2="108.60" y2="116.10" stroke="#b4b4b4" stroke-width="0.4"/>
<line x1="116.00" y1="113.60" x2="116.00" y2="116.10" stroke="#b4b4b4" stroke-width="0.4"/>
<circle cx="109.45" cy="111.30" r="0.56" fill="#000"/>
<circle cx="111.35" cy="111.30" r="0.56" fill="#000"/>
<circle cx="113.25" cy="111.30" r="0.56" fill="#000"/>
<circle cx="115.15" cy="111.30" r="0.56" fill="#000"/>
<line x1="112.90" y1="120.70" x2="116.00" y2="120.70" stroke="#b4b4b4" stroke-width="0.4"/>
<line x1="112.90" y1="120.70" x2="112.90" y2="123.20" stroke="#b4b4b4" stroke-width="0.4"/>
<line x1="116.00" y1="120.70" x2="116.00" y2="140.00" stroke="#b4b4b4" stroke-width="0.4"/>
<text x="114.45" y="119.20" font-size="3.3" text-anchor="middle" fill="#444">ns</text>
<line x1="108.60" y1="127.70" x2="112.90" y2="127.70" stroke="#b4b4b4" stroke-width="0.4"/>
<line x1="108.60" y1="127.70" x2="108.60" y2="148.70" stroke="#b4b4b4" stroke-width="0.4"/>
<line x1="112.90" y1="127.70" x2="112.90" y2="128.70" stroke="#b4b4b4" stroke-width="0.4"/>
<circle cx="107.90" cy="125.40" r="0.56" fill="#000"/>
<circle cx="109.80" cy="125.40" r="0.56" fill="#000"/>
<circle cx="111.70" cy="125.40" r="0.56" fill="#000"/>
<circle cx="113.60" cy="125.40" r="0.56" fill="#000"/>
<ellipse cx="102.50" cy="150.80" rx="1.5" ry="1.0" fill="#111111"/>
<ellipse cx="108.60" cy="150.80" rx="1.5" ry="1.0" fill="#e8242b"/>
<line x1="112.90" y1="129.00" x2="112.90" y2="145.70" stroke="#2828d8" stroke-width="0.5"/>
<rect x="111.45" y="132.01" width="2.9" height="11.19" fill="#fff" stroke="#2828d8" stroke-width="0.65"/>
<line x1="111.45" y1="137.60" x2="114.35" y2="137.60" stroke="#2828d8" stroke-width="0.6"/>
<circle cx="112.90" cy="129.50" r="0.72" fill="#2828d8"/>
<circle cx="112.30" cy="132.64" r="0.72" fill="#2828d8"/>
<circle cx="113.50" cy="135.78" r="0.72" fill="#2828d8"/>
<circle cx="112.30" cy="138.92" r="0.72" fill="#2828d8"/>
<circle cx="113.50" cy="142.06" r="0.72" fill="#2828d8"/>
<circle cx="112.90" cy="145.20" r="0.72" fill="#2828d8"/>
<line x1="116.00" y1="141.00" x2="116.00" y2="145.70" stroke="#2fba7e" stroke-width="0.5"/>
<rect x="114.55" y="141.85" width="2.9" height="3.15" fill="#fff" stroke="#2fba7e" stroke-width="0.65"/>
<line x1="114.55" y1="143.42" x2="117.45" y2="143.42" stroke="#2fba7e" stroke-width="0.6"/>
<circle cx="116.00" cy="141.50" r="0.72" fill="#2fba7e"/>
<circle cx="115.40" cy="143.35" r="0.72" fill="#2fba7e"/>
<circle cx="116.00" cy="145.20" r="0.72" fill="#2fba7e"/>
<ellipse cx="121.60" cy="150.80" rx="1.5" ry="1.0" fill="#e8242b"/>
<ellipse cx="125.30" cy="150.80" rx="1.5" ry="1.0" fill="#2828d8"/>
<ellipse cx="129.00" cy="150.80" rx="1.5" ry="1.0" fill="#2fba7e"/>
<ellipse cx="134.50" cy="150.80" rx="1.5" ry="1.0" fill="#e8242b"/>
<ellipse cx="138.20" cy="150.80" rx="1.5" ry="1.0" fill="#2828d8"/>
<ellipse cx="141.90" cy="150.80" rx="1.5" ry="1.0" fill="#2fba7e"/>
<line x1="147.50" y1="146.00" x2="147.50" y2="151.00" stroke="#e8242b" stroke-width="0.5"/>
<rect x="146.05" y="146.90" width="2.9" height="3.35" fill="#fff" stroke="#e8242b" stroke-width="0.65"/>
<line x1="146.05" y1="148.57" x2="148.95" y2="148.57" stroke="#e8242b" stroke-width="0.6"/>
<circle cx="147.50" cy="146.50" r="0.72" fill="#e8242b"/>
<circle cx="146.90" cy="148.50" r="0.72" fill="#e8242b"/>
<circle cx="147.50" cy="150.50" r="0.72" fill="#e8242b"/>
<line x1="151.00" y1="147.00" x2="151.00" y2="151.00" stroke="#2828d8" stroke-width="0.5"/>
<rect x="149.55" y="147.72" width="2.9" height="2.68" fill="#fff" stroke="#2828d8" stroke-width="0.65"/>
<line x1="149.55" y1="149.06" x2="152.45" y2="149.06" stroke="#2828d8" stroke-width="0.6"/>
<circle cx="151.00" cy="147.50" r="0.72" fill="#2828d8"/>
<circle cx="150.40" cy="149.00" r="0.72" fill="#2828d8"/>
<circle cx="151.00" cy="150.50" r="0.72" fill="#2828d8"/>
<line x1="154.75" y1="148.00" x2="154.75" y2="151.00" stroke="#2fba7e" stroke-width="0.5"/>
<rect x="153.30" y="148.54" width="2.9" height="2.01" fill="#fff" stroke="#2fba7e" stroke-width="0.65"/>
<line x1="153.30" y1="149.55" x2="156.20" y2="149.55" stroke="#2fba7e" stroke-width="0.6"/>
<circle cx="154.75" cy="148.50" r="0.72" fill="#2fba7e"/>
<circle cx="154.15" cy="149.50" r="0.72" fill="#2fba7e"/>
<circle cx="154.75" cy="150.50" r="0.72" fill="#2fba7e"/>
<text x="165.90" y="109.40" font-size="8.2" text-anchor="start" fill="#000">G</text>
<text transform="translate(211.80,109.40) scale(1,1.1)" font-size="4.9" text-anchor="middle" fill="#000" stroke="#000" stroke-width="0.07"><tspan font-style="italic">Ifng</tspan></text>
<line x1="179.90" y1="111.10" x2="179.90" y2="151.00" stroke="#444" stroke-width="0.6"/>
<line x1="179.90" y1="150.70" x2="238.50" y2="150.70" stroke="#555" stroke-width="0.7"/>
<line x1="178.50" y1="111.40" x2="179.90" y2="111.40" stroke="#222" stroke-width="0.5"/>
<text x="178.20" y="112.35" font-size="2.6" text-anchor="end" fill="#333">60</text>
<line x1="178.50" y1="124.40" x2="179.90" y2="124.40" stroke="#222" stroke-width="0.5"/>
<text x="178.20" y="125.35" font-size="2.6" text-anchor="end" fill="#333">40</text>
<line x1="178.50" y1="137.70" x2="179.90" y2="137.70" stroke="#222" stroke-width="0.5"/>
<text x="178.20" y="138.65" font-size="2.6" text-anchor="end" fill="#333">20</text>
<line x1="178.50" y1="150.70" x2="179.90" y2="150.70" stroke="#222" stroke-width="0.5"/>
<text x="178.20" y="151.65" font-size="2.6" text-anchor="end" fill="#333">0</text>
<text transform="translate(167.30,131.05) rotate(-90)" font-size="3.7" text-anchor="middle" fill="#111">Relative <tspan font-style="italic">Ifng</tspan> expression</text>
<text transform="translate(172.30,131.05) rotate(-90)" font-size="3.7" text-anchor="middle" fill="#111">(normalized by <tspan font-style="italic">Ubb</tspan>)</text>
<text transform="translate(184.70,154.20) rotate(-50)" font-size="3.9" text-anchor="end" fill="#000" stroke="#000" stroke-width="0.1">Whole tumor</text>
<text transform="translate(194.70,154.20) rotate(-50)" font-size="3.9" text-anchor="end" fill="#000" stroke="#000" stroke-width="0.1">CD8 T cells</text>
<text transform="translate(208.40,154.20) rotate(-50)" font-size="3.9" text-anchor="end" fill="#000" stroke="#000" stroke-width="0.1">Treg</text>
<text transform="translate(221.70,154.20) rotate(-50)" font-size="3.9" text-anchor="end" fill="#000" stroke="#000" stroke-width="0.1">Myeloid cells</text>
<text transform="translate(235.00,154.20) rotate(-50)" font-size="3.9" text-anchor="end" fill="#000" stroke="#000" stroke-width="0.1">NK cells</text>
<line x1="190.10" y1="117.10" x2="197.20" y2="117.10" stroke="#b4b4b4" stroke-width="0.4"/>
<line x1="190.10" y1="117.10" x2="190.10" y2="119.60" stroke="#b4b4b4" stroke-width="0.4"/>
<line x1="197.20" y1="117.10" x2="197.20" y2="119.60" stroke="#b4b4b4" stroke-width="0.4"/>
<circle cx="190.80" cy="114.80" r="0.56" fill="#000"/>
<circle cx="192.70" cy="114.80" r="0.56" fill="#000"/>
<circle cx="194.60" cy="114.80" r="0.56" fill="#000"/>
<circle cx="196.50" cy="114.80" r="0.56" fill="#000"/>
<line x1="193.50" y1="122.70" x2="197.20" y2="122.70" stroke="#b4b4b4" stroke-width="0.4"/>
<line x1="193.50" y1="122.70" x2="193.50" y2="125.20" stroke="#b4b4b4" stroke-width="0.4"/>
<line x1="197.20" y1="122.70" x2="197.20" y2="123.70" stroke="#b4b4b4" stroke-width="0.4"/>
<circle cx="192.50" cy="120.40" r="0.56" fill="#000"/>
<circle cx="194.40" cy="120.40" r="0.56" fill="#000"/>
<circle cx="196.30" cy="120.40" r="0.56" fill="#000"/>
<circle cx="198.20" cy="120.40" r="0.56" fill="#000"/>
<line x1="190.10" y1="134.40" x2="193.50" y2="134.40" stroke="#b4b4b4" stroke-width="0.4"/>
<line x1="190.10" y1="134.40" x2="190.10" y2="141.40" stroke="#b4b4b4" stroke-width="0.4"/>
<line x1="193.50" y1="134.40" x2="193.50" y2="135.40" stroke="#b4b4b4" stroke-width="0.4"/>
<circle cx="188.95" cy="132.10" r="0.56" fill="#000"/>
<circle cx="190.85" cy="132.10" r="0.56" fill="#000"/>
<circle cx="192.75" cy="132.10" r="0.56" fill="#000"/>
<circle cx="194.65" cy="132.10" r="0.56" fill="#000"/>
<ellipse cx="183.50" cy="150.30" rx="1.5" ry="1.0" fill="#111111"/>
<line x1="190.10" y1="142.40" x2="190.10" y2="148.00" stroke="#e8242b" stroke-width="0.5"/>
<rect x="188.65" y="143.41" width="2.9" height="3.75" fill="#fff" stroke="#e8242b" stroke-width="0.65"/>
<line x1="188.65" y1="145.28" x2="191.55" y2="145.28" stroke="#e8242b" stroke-width="0.6"/>
<circle cx="190.10" cy="142.90" r="0.72" fill="#e8242b"/>
<circle cx="189.50" cy="145.20" r="0.72" fill="#e8242b"/>
<circle cx="190.10" cy="147.50" r="0.72" fill="#e8242b"/>
<line x1="193.50" y1="135.60" x2="193.50" y2="141.20" stroke="#2828d8" stroke-width="0.5"/>
<rect x="192.05" y="136.61" width="2.9" height="3.75" fill="#fff" stroke="#2828d8" stroke-width="0.65"/>
<line x1="192.05" y1="138.48" x2="194.95" y2="138.48" stroke="#2828d8" stroke-width="0.6"/>
<circle cx="193.50" cy="136.10" r="0.72" fill="#2828d8"/>
<circle cx="192.90" cy="138.40" r="0.72" fill="#2828d8"/>
<circle cx="193.50" cy="140.70" r="0.72" fill="#2828d8"/>
<line x1="197.20" y1="123.90" x2="197.20" y2="140.00" stroke="#2fba7e" stroke-width="0.5"/>
<rect x="195.75" y="126.80" width="2.9" height="10.79" fill="#fff" stroke="#2fba7e" stroke-width="0.65"/>
<line x1="195.75" y1="132.19" x2="198.65" y2="132.19" stroke="#2fba7e" stroke-width="0.6"/>
<circle cx="197.20" cy="124.40" r="0.72" fill="#2fba7e"/>
<circle cx="196.60" cy="127.42" r="0.72" fill="#2fba7e"/>
<circle cx="197.80" cy="130.44" r="0.72" fill="#2fba7e"/>
<circle cx="196.60" cy="133.46" r="0.72" fill="#2fba7e"/>
<circle cx="197.80" cy="136.48" r="0.72" fill="#2fba7e"/>
<circle cx="197.20" cy="139.50" r="0.72" fill="#2fba7e"/>
<ellipse cx="203.50" cy="150.30" rx="1.5" ry="1.0" fill="#e8242b"/>
<ellipse cx="207.20" cy="150.30" rx="1.5" ry="1.0" fill="#2828d8"/>
<line x1="210.90" y1="147.00" x2="210.90" y2="150.70" stroke="#2fba7e" stroke-width="0.5"/>
<rect x="209.45" y="147.67" width="2.9" height="2.48" fill="#fff" stroke="#2fba7e" stroke-width="0.65"/>
<line x1="209.45" y1="148.91" x2="212.35" y2="148.91" stroke="#2fba7e" stroke-width="0.6"/>
<circle cx="210.90" cy="147.50" r="0.72" fill="#2fba7e"/>
<circle cx="210.30" cy="148.85" r="0.72" fill="#2fba7e"/>
<circle cx="210.90" cy="150.20" r="0.72" fill="#2fba7e"/>
<ellipse cx="216.40" cy="150.30" rx="1.5" ry="1.0" fill="#e8242b"/>
<ellipse cx="220.50" cy="150.30" rx="1.5" ry="1.0" fill="#2828d8"/>
<ellipse cx="224.20" cy="150.30" rx="1.5" ry="1.0" fill="#2fba7e"/>
<ellipse cx="230.30" cy="149.60" rx="1.5" ry="1.10" fill="#e8242b"/>
<ellipse cx="233.80" cy="149.60" rx="1.5" ry="1.10" fill="#2828d8"/>
<ellipse cx="237.00" cy="150.30" rx="1.5" ry="1.0" fill="#2fba7e"/>
<text x="248.00" y="109.40" font-size="8.2" text-anchor="start" fill="#000">H</text>
<text transform="translate(291.70,109.00) scale(1,1.1)" font-size="5.1" text-anchor="middle" fill="#000" stroke="#000" stroke-width="0.07"><tspan font-style="italic">Prf1</tspan></text>
<line x1="262.30" y1="111.10" x2="262.30" y2="151.10" stroke="#444" stroke-width="0.6"/>
<line x1="262.30" y1="150.80" x2="322.00" y2="150.80" stroke="#555" stroke-width="0.7"/>
<line x1="260.90" y1="111.40" x2="262.30" y2="111.40" stroke="#222" stroke-width="0.5"/>
<text x="260.60" y="112.35" font-size="2.6" text-anchor="end" fill="#333">60</text>
<line x1="260.90" y1="124.40" x2="262.30" y2="124.40" stroke="#222" stroke-width="0.5"/>
<text x="260.60" y="125.35" font-size="2.6" text-anchor="end" fill="#333">40</text>
<line x1="260.90" y1="137.70" x2="262.30" y2="137.70" stroke="#222" stroke-width="0.5"/>
<text x="260.60" y="138.65" font-size="2.6" text-anchor="end" fill="#333">20</text>
<line x1="260.90" y1="150.80" x2="262.30" y2="150.80" stroke="#222" stroke-width="0.5"/>
<text x="260.60" y="151.75" font-size="2.6" text-anchor="end" fill="#333">0</text>
<text transform="translate(249.30,131.10) rotate(-90)" font-size="3.7" text-anchor="middle" fill="#111">Relative <tspan font-style="italic">Prf1</tspan> expression</text>
<text transform="translate(254.15,131.10) rotate(-90)" font-size="3.7" text-anchor="middle" fill="#111">(normalized by <tspan font-style="italic">Ubb</tspan>)</text>
<text transform="translate(266.20,154.30) rotate(-50)" font-size="3.9" text-anchor="end" fill="#000" stroke="#000" stroke-width="0.1">Whole tumor</text>
<text transform="translate(276.40,154.30) rotate(-50)" font-size="3.9" text-anchor="end" fill="#000" stroke="#000" stroke-width="0.1">CD8 T cells</text>
<text transform="translate(289.70,154.30) rotate(-50)" font-size="3.9" text-anchor="end" fill="#000" stroke="#000" stroke-width="0.1">Treg</text>
<text transform="translate(302.80,154.30) rotate(-50)" font-size="3.9" text-anchor="end" fill="#000" stroke="#000" stroke-width="0.1">Myeloid cells</text>
<text transform="translate(316.50,154.30) rotate(-50)" font-size="3.9" text-anchor="end" fill="#000" stroke="#000" stroke-width="0.1">NK cells</text>
<line x1="271.10" y1="124.70" x2="278.60" y2="124.70" stroke="#b4b4b4" stroke-width="0.4"/>
<line x1="271.10" y1="124.70" x2="271.10" y2="127.20" stroke="#b4b4b4" stroke-width="0.4"/>
<line x1="278.60" y1="124.70" x2="278.60" y2="126.50" stroke="#b4b4b4" stroke-width="0.4"/>
<text x="274.85" y="123.20" font-size="3.3" text-anchor="middle" fill="#444">ns</text>
<line x1="275.20" y1="128.00" x2="278.60" y2="128.00" stroke="#b4b4b4" stroke-width="0.4"/>
<line x1="275.20" y1="128.00" x2="275.20" y2="130.50" stroke="#b4b4b4" stroke-width="0.4"/>
<line x1="278.60" y1="128.00" x2="278.60" y2="139.00" stroke="#b4b4b4" stroke-width="0.4"/>
<text x="276.90" y="126.50" font-size="3.3" text-anchor="middle" fill="#444">ns</text>
<line x1="271.10" y1="135.10" x2="275.20" y2="135.10" stroke="#b4b4b4" stroke-width="0.4"/>
<line x1="271.10" y1="135.10" x2="271.10" y2="139.00" stroke="#b4b4b4" stroke-width="0.4"/>
<line x1="275.20" y1="135.10" x2="275.20" y2="136.30" stroke="#b4b4b4" stroke-width="0.4"/>
<circle cx="273.15" cy="132.80" r="0.56" fill="#000"/>
<line x1="312.00" y1="109.70" x2="318.80" y2="109.70" stroke="#b4b4b4" stroke-width="0.4"/>
<line x1="312.00" y1="109.70" x2="312.00" y2="112.20" stroke="#b4b4b4" stroke-width="0.4"/>
<line x1="318.80" y1="109.70" x2="318.80" y2="112.20" stroke="#b4b4b4" stroke-width="0.4"/>
<circle cx="315.40" cy="107.40" r="0.56" fill="#000"/>
<line x1="312.00" y1="116.70" x2="315.30" y2="116.70" stroke="#b4b4b4" stroke-width="0.4"/>
<line x1="312.00" y1="116.70" x2="312.00" y2="131.20" stroke="#b4b4b4" stroke-width="0.4"/>
<line x1="315.30" y1="116.70" x2="315.30" y2="119.20" stroke="#b4b4b4" stroke-width="0.4"/>
<text x="313.65" y="115.20" font-size="3.3" text-anchor="middle" fill="#444">ns</text>
<line x1="315.30" y1="124.20" x2="318.80" y2="124.20" stroke="#b4b4b4" stroke-width="0.4"/>
<line x1="315.30" y1="124.20" x2="315.30" y2="129.80" stroke="#b4b4b4" stroke-width="0.4"/>
<line x1="318.80" y1="124.20" x2="318.80" y2="127.30" stroke="#b4b4b4" stroke-width="0.4"/>
<circle cx="314.20" cy="121.90" r="0.56" fill="#000"/>
<circle cx="316.10" cy="121.90" r="0.56" fill="#000"/>
<circle cx="318.00" cy="121.90" r="0.56" fill="#000"/>
<circle cx="319.90" cy="121.90" r="0.56" fill="#000"/>
<ellipse cx="265.00" cy="150.40" rx="1.5" ry="1.0" fill="#111111"/>
<line x1="271.10" y1="140.00" x2="271.10" y2="145.70" stroke="#e8242b" stroke-width="0.5"/>
<rect x="269.65" y="141.03" width="2.9" height="3.82" fill="#fff" stroke="#e8242b" stroke-width="0.65"/>
<line x1="269.65" y1="142.94" x2="272.55" y2="142.94" stroke="#e8242b" stroke-width="0.6"/>
<circle cx="271.10" cy="140.50" r="0.72" fill="#e8242b"/>
<circle cx="270.50" cy="142.85" r="0.72" fill="#e8242b"/>
<circle cx="271.10" cy="145.20" r="0.72" fill="#e8242b"/>
<line x1="275.20" y1="137.30" x2="275.20" y2="141.00" stroke="#2828d8" stroke-width="0.5"/>
<rect x="273.75" y="137.97" width="2.9" height="2.48" fill="#fff" stroke="#2828d8" stroke-width="0.65"/>
<line x1="273.75" y1="139.21" x2="276.65" y2="139.21" stroke="#2828d8" stroke-width="0.6"/>
<circle cx="275.20" cy="137.80" r="0.72" fill="#2828d8"/>
<circle cx="274.60" cy="139.15" r="0.72" fill="#2828d8"/>
<circle cx="275.20" cy="140.50" r="0.72" fill="#2828d8"/>
<line x1="278.60" y1="140.00" x2="278.60" y2="145.70" stroke="#2fba7e" stroke-width="0.5"/>
<rect x="277.15" y="141.03" width="2.9" height="3.82" fill="#fff" stroke="#2fba7e" stroke-width="0.65"/>
<line x1="277.15" y1="142.94" x2="280.05" y2="142.94" stroke="#2fba7e" stroke-width="0.6"/>
<circle cx="278.60" cy="140.50" r="0.72" fill="#2fba7e"/>
<circle cx="278.00" cy="142.85" r="0.72" fill="#2fba7e"/>
<circle cx="278.60" cy="145.20" r="0.72" fill="#2fba7e"/>
<ellipse cx="284.80" cy="150.40" rx="1.5" ry="1.0" fill="#e8242b"/>
<ellipse cx="288.50" cy="150.40" rx="1.5" ry="1.0" fill="#2828d8"/>
<ellipse cx="291.80" cy="150.40" rx="1.5" ry="1.0" fill="#2fba7e"/>
<ellipse cx="297.80" cy="150.40" rx="1.5" ry="1.0" fill="#e8242b"/>
<ellipse cx="301.60" cy="150.40" rx="1.5" ry="1.0" fill="#2828d8"/>
<ellipse cx="305.50" cy="150.40" rx="1.5" ry="1.0" fill="#2fba7e"/>
<line x1="312.00" y1="132.20" x2="312.00" y2="141.80" stroke="#e8242b" stroke-width="0.5"/>
<rect x="310.55" y="133.93" width="2.9" height="6.43" fill="#fff" stroke="#e8242b" stroke-width="0.65"/>
<line x1="310.55" y1="137.14" x2="313.45" y2="137.14" stroke="#e8242b" stroke-width="0.6"/>
<circle cx="312.00" cy="132.70" r="0.72" fill="#e8242b"/>
<circle cx="311.40" cy="135.57" r="0.72" fill="#e8242b"/>
<circle cx="312.60" cy="138.43" r="0.72" fill="#e8242b"/>
<circle cx="312.00" cy="141.30" r="0.72" fill="#e8242b"/>
<line x1="315.30" y1="130.80" x2="315.30" y2="145.80" stroke="#2828d8" stroke-width="0.5"/>
<rect x="313.85" y="133.50" width="2.9" height="10.05" fill="#fff" stroke="#2828d8" stroke-width="0.65"/>
<line x1="313.85" y1="138.53" x2="316.75" y2="138.53" stroke="#2828d8" stroke-width="0.6"/>
<circle cx="315.30" cy="131.30" r="0.72" fill="#2828d8"/>
<circle cx="314.70" cy="134.10" r="0.72" fill="#2828d8"/>
<circle cx="315.90" cy="136.90" r="0.72" fill="#2828d8"/>
<circle cx="314.70" cy="139.70" r="0.72" fill="#2828d8"/>
<circle cx="315.90" cy="142.50" r="0.72" fill="#2828d8"/>
<circle cx="315.30" cy="145.30" r="0.72" fill="#2828d8"/>
<line x1="318.80" y1="128.30" x2="318.80" y2="137.50" stroke="#2fba7e" stroke-width="0.5"/>
<rect x="317.35" y="129.96" width="2.9" height="6.16" fill="#fff" stroke="#2fba7e" stroke-width="0.65"/>
<line x1="317.35" y1="133.04" x2="320.25" y2="133.04" stroke="#2fba7e" stroke-width="0.6"/>
<circle cx="318.80" cy="128.80" r="0.72" fill="#2fba7e"/>
<circle cx="318.20" cy="131.53" r="0.72" fill="#2fba7e"/>
<circle cx="319.40" cy="134.27" r="0.72" fill="#2fba7e"/>
<circle cx="318.80" cy="137.00" r="0.72" fill="#2fba7e"/>
<text x="3.60" y="196.40" font-size="8.2" text-anchor="start" fill="#000">I</text>
<text transform="translate(49.40,196.60) scale(1,1.1)" font-size="5.5" text-anchor="middle" fill="#000" stroke="#000" stroke-width="0.07"><tspan font-style="italic">Pdcd1</tspan> (PD-1)</text>
<line x1="18.50" y1="199.90" x2="18.50" y2="239.90" stroke="#444" stroke-width="0.6"/>
<line x1="18.50" y1="239.60" x2="77.50" y2="239.60" stroke="#555" stroke-width="0.7"/>
<line x1="17.10" y1="200.20" x2="18.50" y2="200.20" stroke="#222" stroke-width="0.5"/>
<text x="16.80" y="201.15" font-size="2.6" text-anchor="end" fill="#333">100</text>
<line x1="17.10" y1="208.10" x2="18.50" y2="208.10" stroke="#222" stroke-width="0.5"/>
<text x="16.80" y="209.05" font-size="2.6" text-anchor="end" fill="#333">80</text>
<line x1="17.10" y1="215.90" x2="18.50" y2="215.90" stroke="#222" stroke-width="0.5"/>
<text x="16.80" y="216.85" font-size="2.6" text-anchor="end" fill="#333">60</text>
<line x1="17.10" y1="223.90" x2="18.50" y2="223.90" stroke="#222" stroke-width="0.5"/>
<text x="16.80" y="224.85" font-size="2.6" text-anchor="end" fill="#333">40</text>
<line x1="17.10" y1="231.70" x2="18.50" y2="231.70" stroke="#222" stroke-width="0.5"/>
<text x="16.80" y="232.65" font-size="2.6" text-anchor="end" fill="#333">20</text>
<line x1="17.10" y1="239.60" x2="18.50" y2="239.60" stroke="#222" stroke-width="0.5"/>
<text x="16.80" y="240.55" font-size="2.6" text-anchor="end" fill="#333">0</text>
<text transform="translate(5.30,219.90) rotate(-90)" font-size="3.7" text-anchor="middle" fill="#111">Relative <tspan font-style="italic">Pdcd1</tspan> expression</text>
<text transform="translate(10.60,219.90) rotate(-90)" font-size="3.7" text-anchor="middle" fill="#111">(normalized by <tspan font-style="italic">Ubb</tspan>)</text>
<text transform="translate(22.50,243.10) rotate(-50)" font-size="3.9" text-anchor="end" fill="#000" stroke="#000" stroke-width="0.1">Whole tumor</text>
<text transform="translate(32.60,243.10) rotate(-50)" font-size="3.9" text-anchor="end" fill="#000" stroke="#000" stroke-width="0.1">CD8 T cells</text>
<text transform="translate(46.20,243.10) rotate(-50)" font-size="3.9" text-anchor="end" fill="#000" stroke="#000" stroke-width="0.1">Treg</text>
<text transform="translate(59.50,243.10) rotate(-50)" font-size="3.9" text-anchor="end" fill="#000" stroke="#000" stroke-width="0.1">Myeloid cells</text>
<text transform="translate(72.50,243.10) rotate(-50)" font-size="3.9" text-anchor="end" fill="#000" stroke="#000" stroke-width="0.1">NK cells</text>
<line x1="28.30" y1="202.60" x2="35.10" y2="202.60" stroke="#b4b4b4" stroke-width="0.4"/>
<line x1="28.30" y1="202.60" x2="28.30" y2="205.10" stroke="#b4b4b4" stroke-width="0.4"/>
<line x1="35.10" y1="202.60" x2="35.10" y2="205.10" stroke="#b4b4b4" stroke-width="0.4"/>
<circle cx="28.85" cy="200.30" r="0.56" fill="#000"/>
<circle cx="30.75" cy="200.30" r="0.56" fill="#000"/>
<circle cx="32.65" cy="200.30" r="0.56" fill="#000"/>
<circle cx="34.55" cy="200.30" r="0.56" fill="#000"/>
<line x1="31.40" y1="208.50" x2="35.10" y2="208.50" stroke="#b4b4b4" stroke-width="0.4"/>
<line x1="31.40" y1="208.50" x2="31.40" y2="211.00" stroke="#b4b4b4" stroke-width="0.4"/>
<line x1="35.10" y1="208.50" x2="35.10" y2="214.90" stroke="#b4b4b4" stroke-width="0.4"/>
<text x="33.25" y="207.00" font-size="3.3" text-anchor="middle" fill="#444">ns</text>
<line x1="28.30" y1="215.90" x2="31.40" y2="215.90" stroke="#b4b4b4" stroke-width="0.4"/>
<line x1="28.30" y1="215.90" x2="28.30" y2="233.40" stroke="#b4b4b4" stroke-width="0.4"/>
<line x1="31.40" y1="215.90" x2="31.40" y2="218.60" stroke="#b4b4b4" stroke-width="0.4"/>
<circle cx="27.00" cy="213.60" r="0.56" fill="#000"/>
<circle cx="28.90" cy="213.60" r="0.56" fill="#000"/>
<circle cx="30.80" cy="213.60" r="0.56" fill="#000"/>
<circle cx="32.70" cy="213.60" r="0.56" fill="#000"/>
<line x1="41.60" y1="201.50" x2="49.00" y2="201.50" stroke="#b4b4b4" stroke-width="0.4"/>
<line x1="41.60" y1="201.50" x2="41.60" y2="204.00" stroke="#b4b4b4" stroke-width="0.4"/>
<line x1="49.00" y1="201.50" x2="49.00" y2="204.00" stroke="#b4b4b4" stroke-width="0.4"/>
<circle cx="44.35" cy="199.20" r="0.56" fill="#000"/>
<circle cx="46.25" cy="199.20" r="0.56" fill="#000"/>
<line x1="45.00" y1="207.60" x2="49.00" y2="207.60" stroke="#b4b4b4" stroke-width="0.4"/>
<line x1="45.00" y1="207.60" x2="45.00" y2="210.10" stroke="#b4b4b4" stroke-width="0.4"/>
<line x1="49.00" y1="207.60" x2="49.00" y2="235.00" stroke="#b4b4b4" stroke-width="0.4"/>
<text x="47.00" y="206.10" font-size="3.3" text-anchor="middle" fill="#444">ns</text>
<line x1="41.60" y1="213.10" x2="45.00" y2="213.10" stroke="#b4b4b4" stroke-width="0.4"/>
<line x1="41.60" y1="213.10" x2="41.60" y2="216.80" stroke="#b4b4b4" stroke-width="0.4"/>
<line x1="45.00" y1="213.10" x2="45.00" y2="231.60" stroke="#b4b4b4" stroke-width="0.4"/>
<circle cx="43.30" cy="210.80" r="0.56" fill="#000"/>
<ellipse cx="21.30" cy="239.20" rx="1.5" ry="1.0" fill="#111111"/>
<line x1="28.30" y1="234.40" x2="28.30" y2="239.60" stroke="#e8242b" stroke-width="0.5"/>
<rect x="26.85" y="235.34" width="2.9" height="3.48" fill="#fff" stroke="#e8242b" stroke-width="0.65"/>
<line x1="26.85" y1="237.08" x2="29.75" y2="237.08" stroke="#e8242b" stroke-width="0.6"/>
<circle cx="28.30" cy="234.90" r="0.72" fill="#e8242b"/>
<circle cx="27.70" cy="237.00" r="0.72" fill="#e8242b"/>
<circle cx="28.30" cy="239.10" r="0.72" fill="#e8242b"/>
<line x1="31.40" y1="219.60" x2="31.40" y2="227.00" stroke="#2828d8" stroke-width="0.5"/>
<rect x="29.95" y="220.93" width="2.9" height="4.96" fill="#fff" stroke="#2828d8" stroke-width="0.65"/>
<line x1="29.95" y1="223.41" x2="32.85" y2="223.41" stroke="#2828d8" stroke-width="0.6"/>
<circle cx="31.40" cy="220.10" r="0.72" fill="#2828d8"/>
<circle cx="30.80" cy="223.30" r="0.72" fill="#2828d8"/>
<circle cx="31.40" cy="226.50" r="0.72" fill="#2828d8"/>
<line x1="35.10" y1="215.90" x2="35.10" y2="226.10" stroke="#2fba7e" stroke-width="0.5"/>
<rect x="33.65" y="217.74" width="2.9" height="6.83" fill="#fff" stroke="#2fba7e" stroke-width="0.65"/>
<line x1="33.65" y1="221.15" x2="36.55" y2="221.15" stroke="#2fba7e" stroke-width="0.6"/>
<circle cx="35.10" cy="216.40" r="0.72" fill="#2fba7e"/>
<circle cx="34.50" cy="219.47" r="0.72" fill="#2fba7e"/>
<circle cx="35.70" cy="222.53" r="0.72" fill="#2fba7e"/>
<circle cx="35.10" cy="225.60" r="0.72" fill="#2fba7e"/>
<line x1="41.60" y1="217.80" x2="41.60" y2="239.00" stroke="#e8242b" stroke-width="0.5"/>
<rect x="40.15" y="221.62" width="2.9" height="14.20" fill="#fff" stroke="#e8242b" stroke-width="0.65"/>
<line x1="40.15" y1="228.72" x2="43.05" y2="228.72" stroke="#e8242b" stroke-width="0.6"/>
<circle cx="41.60" cy="218.30" r="0.72" fill="#e8242b"/>
<circle cx="41.00" cy="222.34" r="0.72" fill="#e8242b"/>
<circle cx="42.20" cy="226.38" r="0.72" fill="#e8242b"/>
<circle cx="41.00" cy="230.42" r="0.72" fill="#e8242b"/>
<circle cx="42.20" cy="234.46" r="0.72" fill="#e8242b"/>
<circle cx="41.60" cy="238.50" r="0.72" fill="#e8242b"/>
<line x1="45.00" y1="232.60" x2="45.00" y2="238.10" stroke="#2828d8" stroke-width="0.5"/>
<rect x="43.55" y="233.59" width="2.9" height="3.69" fill="#fff" stroke="#2828d8" stroke-width="0.65"/>
<line x1="43.55" y1="235.43" x2="46.45" y2="235.43" stroke="#2828d8" stroke-width="0.6"/>
<circle cx="45.00" cy="233.10" r="0.72" fill="#2828d8"/>
<circle cx="44.40" cy="235.35" r="0.72" fill="#2828d8"/>
<circle cx="45.00" cy="237.60" r="0.72" fill="#2828d8"/>
<line x1="49.00" y1="236.00" x2="49.00" y2="239.60" stroke="#2fba7e" stroke-width="0.5"/>
<rect x="47.55" y="236.65" width="2.9" height="2.41" fill="#fff" stroke="#2fba7e" stroke-width="0.65"/>
<line x1="47.55" y1="237.85" x2="50.45" y2="237.85" stroke="#2fba7e" stroke-width="0.6"/>
<circle cx="49.00" cy="236.50" r="0.72" fill="#2fba7e"/>
<circle cx="48.40" cy="237.80" r="0.72" fill="#2fba7e"/>
<circle cx="49.00" cy="239.10" r="0.72" fill="#2fba7e"/>
<ellipse cx="54.60" cy="239.20" rx="1.5" ry="1.0" fill="#e8242b"/>
<ellipse cx="58.30" cy="239.20" rx="1.5" ry="1.0" fill="#2828d8"/>
<ellipse cx="62.00" cy="239.20" rx="1.5" ry="1.0" fill="#2fba7e"/>
<ellipse cx="67.50" cy="239.20" rx="1.5" ry="1.0" fill="#e8242b"/>
<ellipse cx="71.30" cy="239.20" rx="1.5" ry="1.0" fill="#2828d8"/>
<ellipse cx="75.00" cy="239.20" rx="1.5" ry="1.0" fill="#2fba7e"/>
<text x="86.00" y="196.40" font-size="8.2" text-anchor="start" fill="#000">J</text>
<text transform="translate(128.20,197.00) scale(1,1.1)" font-size="5.4" text-anchor="middle" fill="#000" stroke="#000" stroke-width="0.07"><tspan font-style="italic">Cd28</tspan></text>
<line x1="97.60" y1="199.90" x2="97.60" y2="240.30" stroke="#444" stroke-width="0.6"/>
<line x1="97.60" y1="240.00" x2="157.25" y2="240.00" stroke="#555" stroke-width="0.7"/>
<line x1="96.20" y1="200.20" x2="97.60" y2="200.20" stroke="#222" stroke-width="0.5"/>
<text x="95.90" y="201.15" font-size="2.6" text-anchor="end" fill="#333">3</text>
<line x1="96.20" y1="213.10" x2="97.60" y2="213.10" stroke="#222" stroke-width="0.5"/>
<text x="95.90" y="214.05" font-size="2.6" text-anchor="end" fill="#333">2</text>
<line x1="96.20" y1="226.70" x2="97.60" y2="226.70" stroke="#222" stroke-width="0.5"/>
<text x="95.90" y="227.65" font-size="2.6" text-anchor="end" fill="#333">1</text>
<line x1="96.20" y1="240.00" x2="97.60" y2="240.00" stroke="#222" stroke-width="0.5"/>
<text x="95.90" y="240.95" font-size="2.6" text-anchor="end" fill="#333">0</text>
<text transform="translate(86.80,220.10) rotate(-90)" font-size="3.7" text-anchor="middle" fill="#111">Relative <tspan font-style="italic">Cd28</tspan> expression</text>
<text transform="translate(91.50,220.10) rotate(-90)" font-size="3.7" text-anchor="middle" fill="#111">(normalized by <tspan font-style="italic">Ubb</tspan>)</text>
<text transform="translate(102.00,243.50) rotate(-50)" font-size="3.9" text-anchor="end" fill="#000" stroke="#000" stroke-width="0.1">Whole tumor</text>
<text transform="translate(111.80,243.50) rotate(-50)" font-size="3.9" text-anchor="end" fill="#000" stroke="#000" stroke-width="0.1">CD8 T cells</text>
<text transform="translate(125.30,243.50) rotate(-50)" font-size="3.9" text-anchor="end" fill="#000" stroke="#000" stroke-width="0.1">Treg</text>
<text transform="translate(138.20,243.50) rotate(-50)" font-size="3.9" text-anchor="end" fill="#000" stroke="#000" stroke-width="0.1">Myeloid cells</text>
<text transform="translate(152.00,243.50) rotate(-50)" font-size="3.9" text-anchor="end" fill="#000" stroke="#000" stroke-width="0.1">NK cells</text>
<line x1="106.90" y1="210.00" x2="114.30" y2="210.00" stroke="#b4b4b4" stroke-width="0.4"/>
<line x1="106.90" y1="210.00" x2="106.90" y2="212.50" stroke="#b4b4b4" stroke-width="0.4"/>
<line x1="114.30" y1="210.00" x2="114.30" y2="212.50" stroke="#b4b4b4" stroke-width="0.4"/>
<text x="110.60" y="208.50" font-size="3.3" text-anchor="middle" fill="#444">ns</text>
<line x1="110.60" y1="220.60" x2="114.30" y2="220.60" stroke="#b4b4b4" stroke-width="0.4"/>
<line x1="110.60" y1="220.60" x2="110.60" y2="223.10" stroke="#b4b4b4" stroke-width="0.4"/>
<line x1="114.30" y1="220.60" x2="114.30" y2="229.70" stroke="#b4b4b4" stroke-width="0.4"/>
<text x="112.45" y="219.10" font-size="3.3" text-anchor="middle" fill="#444">ns</text>
<line x1="106.90" y1="225.20" x2="110.60" y2="225.20" stroke="#b4b4b4" stroke-width="0.4"/>
<line x1="106.90" y1="225.20" x2="106.90" y2="227.00" stroke="#b4b4b4" stroke-width="0.4"/>
<line x1="110.60" y1="225.20" x2="110.60" y2="232.00" stroke="#b4b4b4" stroke-width="0.4"/>
<text x="108.75" y="223.70" font-size="3.3" text-anchor="middle" fill="#444">ns</text>
<line x1="120.40" y1="211.30" x2="127.80" y2="211.30" stroke="#b4b4b4" stroke-width="0.4"/>
<line x1="120.40" y1="211.30" x2="120.40" y2="213.80" stroke="#b4b4b4" stroke-width="0.4"/>
<line x1="127.80" y1="211.30" x2="127.80" y2="213.80" stroke="#b4b4b4" stroke-width="0.4"/>
<text x="124.10" y="209.80" font-size="3.3" text-anchor="middle" fill="#444">ns</text>
<line x1="124.10" y1="217.80" x2="127.80" y2="217.80" stroke="#b4b4b4" stroke-width="0.4"/>
<line x1="124.10" y1="217.80" x2="124.10" y2="220.30" stroke="#b4b4b4" stroke-width="0.4"/>
<line x1="127.80" y1="217.80" x2="127.80" y2="231.00" stroke="#b4b4b4" stroke-width="0.4"/>
<text x="125.95" y="216.40" font-size="2.6" text-anchor="middle" fill="#777">****</text>
<line x1="120.40" y1="224.30" x2="124.10" y2="224.30" stroke="#b4b4b4" stroke-width="0.4"/>
<line x1="120.40" y1="224.30" x2="120.40" y2="230.70" stroke="#b4b4b4" stroke-width="0.4"/>
<line x1="124.10" y1="224.30" x2="124.10" y2="227.90" stroke="#b4b4b4" stroke-width="0.4"/>
<text x="122.25" y="222.80" font-size="3.3" text-anchor="middle" fill="#444">ns</text>
<line x1="147.00" y1="215.90" x2="154.50" y2="215.90" stroke="#b4b4b4" stroke-width="0.4"/>
<line x1="147.00" y1="215.90" x2="147.00" y2="218.40" stroke="#b4b4b4" stroke-width="0.4"/>
<line x1="154.50" y1="215.90" x2="154.50" y2="218.40" stroke="#b4b4b4" stroke-width="0.4"/>
<text x="150.75" y="214.40" font-size="3.3" text-anchor="middle" fill="#444">ns</text>
<line x1="150.80" y1="222.50" x2="154.50" y2="222.50" stroke="#b4b4b4" stroke-width="0.4"/>
<line x1="150.80" y1="222.50" x2="150.80" y2="225.00" stroke="#b4b4b4" stroke-width="0.4"/>
<line x1="154.50" y1="222.50" x2="154.50" y2="232.50" stroke="#b4b4b4" stroke-width="0.4"/>
<text x="152.65" y="221.00" font-size="3.3" text-anchor="middle" fill="#444">ns</text>
<line x1="147.00" y1="228.50" x2="150.80" y2="228.50" stroke="#b4b4b4" stroke-width="0.4"/>
<line x1="147.00" y1="228.50" x2="147.00" y2="236.00" stroke="#b4b4b4" stroke-width="0.4"/>
<line x1="150.80" y1="228.50" x2="150.80" y2="234.00" stroke="#b4b4b4" stroke-width="0.4"/>
<text x="148.90" y="227.00" font-size="3.3" text-anchor="middle" fill="#444">ns</text>
<line x1="100.80" y1="212.20" x2="100.80" y2="235.40" stroke="#111111" stroke-width="0.5"/>
<rect x="99.70" y="216.38" width="2.2" height="15.54" fill="#fff" stroke="#111111" stroke-width="0.65"/>
<line x1="99.70" y1="224.15" x2="101.90" y2="224.15" stroke="#111111" stroke-width="0.6"/>
<circle cx="100.80" cy="212.70" r="0.72" fill="#111111"/>
<circle cx="100.20" cy="217.14" r="0.72" fill="#111111"/>
<circle cx="101.40" cy="221.58" r="0.72" fill="#111111"/>
<circle cx="100.20" cy="226.02" r="0.72" fill="#111111"/>
<circle cx="101.40" cy="230.46" r="0.72" fill="#111111"/>
<circle cx="100.80" cy="234.90" r="0.72" fill="#111111"/>
<line x1="106.90" y1="228.00" x2="106.90" y2="236.30" stroke="#e8242b" stroke-width="0.5"/>
<rect x="105.45" y="229.49" width="2.9" height="5.56" fill="#fff" stroke="#e8242b" stroke-width="0.65"/>
<line x1="105.45" y1="232.27" x2="108.35" y2="232.27" stroke="#e8242b" stroke-width="0.6"/>
<circle cx="106.90" cy="228.50" r="0.72" fill="#e8242b"/>
<circle cx="106.30" cy="230.93" r="0.72" fill="#e8242b"/>
<circle cx="107.50" cy="233.37" r="0.72" fill="#e8242b"/>
<circle cx="106.90" cy="235.80" r="0.72" fill="#e8242b"/>
<line x1="110.60" y1="233.00" x2="110.60" y2="236.50" stroke="#2828d8" stroke-width="0.5"/>
<rect x="109.15" y="233.63" width="2.9" height="2.34" fill="#fff" stroke="#2828d8" stroke-width="0.65"/>
<line x1="109.15" y1="234.80" x2="112.05" y2="234.80" stroke="#2828d8" stroke-width="0.6"/>
<circle cx="110.60" cy="233.50" r="0.72" fill="#2828d8"/>
<circle cx="110.00" cy="234.75" r="0.72" fill="#2828d8"/>
<circle cx="110.60" cy="236.00" r="0.72" fill="#2828d8"/>
<line x1="114.30" y1="230.70" x2="114.30" y2="233.50" stroke="#2fba7e" stroke-width="0.5"/>
<rect x="112.85" y="231.20" width="2.9" height="1.88" fill="#fff" stroke="#2fba7e" stroke-width="0.65"/>
<line x1="112.85" y1="232.14" x2="115.75" y2="232.14" stroke="#2fba7e" stroke-width="0.6"/>
<circle cx="114.30" cy="231.20" r="0.72" fill="#2fba7e"/>
<circle cx="113.70" cy="232.10" r="0.72" fill="#2fba7e"/>
<circle cx="114.30" cy="233.00" r="0.72" fill="#2fba7e"/>
<line x1="120.40" y1="231.70" x2="120.40" y2="239.00" stroke="#e8242b" stroke-width="0.5"/>
<rect x="118.95" y="233.01" width="2.9" height="4.89" fill="#fff" stroke="#e8242b" stroke-width="0.65"/>
<line x1="118.95" y1="235.46" x2="121.85" y2="235.46" stroke="#e8242b" stroke-width="0.6"/>
<circle cx="120.40" cy="232.20" r="0.72" fill="#e8242b"/>
<circle cx="119.80" cy="235.35" r="0.72" fill="#e8242b"/>
<circle cx="120.40" cy="238.50" r="0.72" fill="#e8242b"/>
<line x1="124.10" y1="228.90" x2="124.10" y2="240.00" stroke="#2828d8" stroke-width="0.5"/>
<rect x="122.65" y="230.90" width="2.9" height="7.44" fill="#fff" stroke="#2828d8" stroke-width="0.65"/>
<line x1="122.65" y1="234.62" x2="125.55" y2="234.62" stroke="#2828d8" stroke-width="0.6"/>
<circle cx="124.10" cy="229.40" r="0.72" fill="#2828d8"/>
<circle cx="123.50" cy="231.93" r="0.72" fill="#2828d8"/>
<circle cx="124.70" cy="234.45" r="0.72" fill="#2828d8"/>
<circle cx="123.50" cy="236.97" r="0.72" fill="#2828d8"/>
<circle cx="124.10" cy="239.50" r="0.72" fill="#2828d8"/>
<line x1="127.80" y1="232.00" x2="127.80" y2="240.00" stroke="#2fba7e" stroke-width="0.5"/>
<rect x="126.35" y="233.44" width="2.9" height="5.36" fill="#fff" stroke="#2fba7e" stroke-width="0.65"/>
<line x1="126.35" y1="236.12" x2="129.25" y2="236.12" stroke="#2fba7e" stroke-width="0.6"/>
<circle cx="127.80" cy="232.50" r="0.72" fill="#2fba7e"/>
<circle cx="127.20" cy="234.83" r="0.72" fill="#2fba7e"/>
<circle cx="128.40" cy="237.17" r="0.72" fill="#2fba7e"/>
<circle cx="127.80" cy="239.50" r="0.72" fill="#2fba7e"/>
<ellipse cx="133.40" cy="239.60" rx="1.5" ry="1.0" fill="#e8242b"/>
<ellipse cx="137.00" cy="239.60" rx="1.5" ry="1.0" fill="#2828d8"/>
<ellipse cx="140.80" cy="239.60" rx="1.5" ry="1.0" fill="#2fba7e"/>
<line x1="147.00" y1="237.00" x2="147.00" y2="240.00" stroke="#e8242b" stroke-width="0.5"/>
<rect x="145.55" y="237.54" width="2.9" height="2.01" fill="#fff" stroke="#e8242b" stroke-width="0.65"/>
<line x1="145.55" y1="238.55" x2="148.45" y2="238.55" stroke="#e8242b" stroke-width="0.6"/>
<circle cx="147.00" cy="237.50" r="0.72" fill="#e8242b"/>
<circle cx="146.40" cy="238.50" r="0.72" fill="#e8242b"/>
<circle cx="147.00" cy="239.50" r="0.72" fill="#e8242b"/>
<line x1="150.80" y1="235.00" x2="150.80" y2="238.50" stroke="#2828d8" stroke-width="0.5"/>
<rect x="149.35" y="235.63" width="2.9" height="2.34" fill="#fff" stroke="#2828d8" stroke-width="0.65"/>
<line x1="149.35" y1="236.80" x2="152.25" y2="236.80" stroke="#2828d8" stroke-width="0.6"/>
<circle cx="150.80" cy="235.50" r="0.72" fill="#2828d8"/>
<circle cx="150.20" cy="236.75" r="0.72" fill="#2828d8"/>
<circle cx="150.80" cy="238.00" r="0.72" fill="#2828d8"/>
<line x1="154.50" y1="233.50" x2="154.50" y2="237.50" stroke="#2fba7e" stroke-width="0.5"/>
<rect x="153.05" y="234.22" width="2.9" height="2.68" fill="#fff" stroke="#2fba7e" stroke-width="0.65"/>
<line x1="153.05" y1="235.56" x2="155.95" y2="235.56" stroke="#2fba7e" stroke-width="0.6"/>
<circle cx="154.50" cy="234.00" r="0.72" fill="#2fba7e"/>
<circle cx="153.90" cy="235.50" r="0.72" fill="#2fba7e"/>
<circle cx="154.50" cy="237.00" r="0.72" fill="#2fba7e"/>
<text x="167.20" y="196.40" font-size="8.2" text-anchor="start" fill="#000">K</text>
<text transform="translate(211.00,197.00) scale(1,1.1)" font-size="5.4" text-anchor="middle" fill="#000" stroke="#000" stroke-width="0.07"><tspan font-style="italic">Cd274</tspan> (PD-L1)</text>
<line x1="180.30" y1="200.60" x2="180.30" y2="239.80" stroke="#444" stroke-width="0.6"/>
<line x1="180.30" y1="239.50" x2="240.00" y2="239.50" stroke="#555" stroke-width="0.7"/>
<line x1="178.90" y1="201.10" x2="180.30" y2="201.10" stroke="#222" stroke-width="0.5"/>
<text x="178.60" y="202.05" font-size="2.6" text-anchor="end" fill="#333">60</text>
<line x1="178.90" y1="214.10" x2="180.30" y2="214.10" stroke="#222" stroke-width="0.5"/>
<text x="178.60" y="215.05" font-size="2.6" text-anchor="end" fill="#333">40</text>
<line x1="178.90" y1="226.70" x2="180.30" y2="226.70" stroke="#222" stroke-width="0.5"/>
<text x="178.60" y="227.65" font-size="2.6" text-anchor="end" fill="#333">20</text>
<line x1="178.90" y1="239.60" x2="180.30" y2="239.60" stroke="#222" stroke-width="0.5"/>
<text x="178.60" y="240.55" font-size="2.6" text-anchor="end" fill="#333">0</text>
<text transform="translate(168.80,220.20) rotate(-90)" font-size="3.7" text-anchor="middle" fill="#111">Relative <tspan font-style="italic">Cd274</tspan> expression</text>
<text transform="translate(173.50,220.20) rotate(-90)" font-size="3.7" text-anchor="middle" fill="#111">(normalized by <tspan font-style="italic">Ubb</tspan>)</text>
<text transform="translate(185.40,243.00) rotate(-50)" font-size="3.9" text-anchor="end" fill="#000" stroke="#000" stroke-width="0.1">Whole tumor</text>
<text transform="translate(195.20,243.00) rotate(-50)" font-size="3.9" text-anchor="end" fill="#000" stroke="#000" stroke-width="0.1">CD8 T cells</text>
<text transform="translate(208.20,243.00) rotate(-50)" font-size="3.9" text-anchor="end" fill="#000" stroke="#000" stroke-width="0.1">Treg</text>
<text transform="translate(221.50,243.00) rotate(-50)" font-size="3.9" text-anchor="end" fill="#000" stroke="#000" stroke-width="0.1">Myeloid cells</text>
<text transform="translate(234.50,243.00) rotate(-50)" font-size="3.9" text-anchor="end" fill="#000" stroke="#000" stroke-width="0.1">NK cells</text>
<line x1="203.60" y1="208.50" x2="210.70" y2="208.50" stroke="#b4b4b4" stroke-width="0.4"/>
<line x1="203.60" y1="208.50" x2="203.60" y2="211.00" stroke="#b4b4b4" stroke-width="0.4"/>
<line x1="210.70" y1="208.50" x2="210.70" y2="211.00" stroke="#b4b4b4" stroke-width="0.4"/>
<circle cx="207.15" cy="206.20" r="0.56" fill="#000"/>
<line x1="207.00" y1="215.00" x2="210.70" y2="215.00" stroke="#b4b4b4" stroke-width="0.4"/>
<line x1="207.00" y1="215.00" x2="207.00" y2="217.50" stroke="#b4b4b4" stroke-width="0.4"/>
<line x1="210.70" y1="215.00" x2="210.70" y2="216.80" stroke="#b4b4b4" stroke-width="0.4"/>
<circle cx="206.95" cy="212.70" r="0.56" fill="#000"/>
<circle cx="208.85" cy="212.70" r="0.56" fill="#000"/>
<circle cx="210.75" cy="212.70" r="0.56" fill="#000"/>
<line x1="203.60" y1="229.80" x2="207.00" y2="229.80" stroke="#b4b4b4" stroke-width="0.4"/>
<line x1="203.60" y1="229.80" x2="203.60" y2="230.80" stroke="#b4b4b4" stroke-width="0.4"/>
<line x1="207.00" y1="229.80" x2="207.00" y2="235.00" stroke="#b4b4b4" stroke-width="0.4"/>
<circle cx="204.35" cy="227.50" r="0.56" fill="#000"/>
<circle cx="206.25" cy="227.50" r="0.56" fill="#000"/>
<line x1="216.60" y1="202.00" x2="223.60" y2="202.00" stroke="#b4b4b4" stroke-width="0.4"/>
<line x1="216.60" y1="202.00" x2="216.60" y2="204.50" stroke="#b4b4b4" stroke-width="0.4"/>
<line x1="223.60" y1="202.00" x2="223.60" y2="204.50" stroke="#b4b4b4" stroke-width="0.4"/>
<circle cx="220.10" cy="199.70" r="0.56" fill="#000"/>
<line x1="220.30" y1="208.50" x2="223.60" y2="208.50" stroke="#b4b4b4" stroke-width="0.4"/>
<line x1="220.30" y1="208.50" x2="220.30" y2="211.00" stroke="#b4b4b4" stroke-width="0.4"/>
<line x1="223.60" y1="208.50" x2="223.60" y2="219.60" stroke="#b4b4b4" stroke-width="0.4"/>
<text x="221.95" y="207.00" font-size="3.3" text-anchor="middle" fill="#444">ns</text>
<line x1="216.60" y1="213.10" x2="220.30" y2="213.10" stroke="#b4b4b4" stroke-width="0.4"/>
<line x1="216.60" y1="213.10" x2="216.60" y2="228.80" stroke="#b4b4b4" stroke-width="0.4"/>
<line x1="220.30" y1="213.10" x2="220.30" y2="215.90" stroke="#b4b4b4" stroke-width="0.4"/>
<circle cx="218.45" cy="210.80" r="0.56" fill="#000"/>
<ellipse cx="184.20" cy="239.10" rx="1.5" ry="1.0" fill="#111111"/>
<ellipse cx="190.30" cy="239.10" rx="1.5" ry="1.0" fill="#e8242b"/>
<ellipse cx="194.00" cy="239.10" rx="1.5" ry="1.0" fill="#2828d8"/>
<line x1="197.70" y1="237.00" x2="197.70" y2="239.60" stroke="#2fba7e" stroke-width="0.5"/>
<rect x="196.25" y="237.47" width="2.9" height="1.74" fill="#fff" stroke="#2fba7e" stroke-width="0.65"/>
<line x1="196.25" y1="238.34" x2="199.15" y2="238.34" stroke="#2fba7e" stroke-width="0.6"/>
<circle cx="197.70" cy="237.50" r="0.72" fill="#2fba7e"/>
<circle cx="197.10" cy="238.30" r="0.72" fill="#2fba7e"/>
<circle cx="197.70" cy="239.10" r="0.72" fill="#2fba7e"/>
<line x1="203.60" y1="231.70" x2="203.60" y2="239.00" stroke="#e8242b" stroke-width="0.5"/>
<rect x="202.15" y="233.01" width="2.9" height="4.89" fill="#fff" stroke="#e8242b" stroke-width="0.65"/>
<line x1="202.15" y1="235.46" x2="205.05" y2="235.46" stroke="#e8242b" stroke-width="0.6"/>
<circle cx="203.60" cy="232.20" r="0.72" fill="#e8242b"/>
<circle cx="203.00" cy="235.35" r="0.72" fill="#e8242b"/>
<circle cx="203.60" cy="238.50" r="0.72" fill="#e8242b"/>
<line x1="207.00" y1="236.00" x2="207.00" y2="239.60" stroke="#2828d8" stroke-width="0.5"/>
<rect x="205.55" y="236.65" width="2.9" height="2.41" fill="#fff" stroke="#2828d8" stroke-width="0.65"/>
<line x1="205.55" y1="237.85" x2="208.45" y2="237.85" stroke="#2828d8" stroke-width="0.6"/>
<circle cx="207.00" cy="236.50" r="0.72" fill="#2828d8"/>
<circle cx="206.40" cy="237.80" r="0.72" fill="#2828d8"/>
<circle cx="207.00" cy="239.10" r="0.72" fill="#2828d8"/>
<line x1="210.70" y1="217.80" x2="210.70" y2="238.10" stroke="#2fba7e" stroke-width="0.5"/>
<rect x="209.25" y="221.45" width="2.9" height="13.60" fill="#fff" stroke="#2fba7e" stroke-width="0.65"/>
<line x1="209.25" y1="228.25" x2="212.15" y2="228.25" stroke="#2fba7e" stroke-width="0.6"/>
<circle cx="210.70" cy="218.30" r="0.72" fill="#2fba7e"/>
<circle cx="210.10" cy="222.16" r="0.72" fill="#2fba7e"/>
<circle cx="211.30" cy="226.02" r="0.72" fill="#2fba7e"/>
<circle cx="210.10" cy="229.88" r="0.72" fill="#2fba7e"/>
<circle cx="211.30" cy="233.74" r="0.72" fill="#2fba7e"/>
<circle cx="210.70" cy="237.60" r="0.72" fill="#2fba7e"/>
<line x1="216.60" y1="229.80" x2="216.60" y2="235.40" stroke="#e8242b" stroke-width="0.5"/>
<rect x="215.15" y="230.81" width="2.9" height="3.75" fill="#fff" stroke="#e8242b" stroke-width="0.65"/>
<line x1="215.15" y1="232.68" x2="218.05" y2="232.68" stroke="#e8242b" stroke-width="0.6"/>
<circle cx="216.60" cy="230.30" r="0.72" fill="#e8242b"/>
<circle cx="216.00" cy="232.60" r="0.72" fill="#e8242b"/>
<circle cx="216.60" cy="234.90" r="0.72" fill="#e8242b"/>
<line x1="220.30" y1="216.90" x2="220.30" y2="233.50" stroke="#2828d8" stroke-width="0.5"/>
<rect x="218.85" y="219.89" width="2.9" height="11.12" fill="#fff" stroke="#2828d8" stroke-width="0.65"/>
<line x1="218.85" y1="225.45" x2="221.75" y2="225.45" stroke="#2828d8" stroke-width="0.6"/>
<circle cx="220.30" cy="217.40" r="0.72" fill="#2828d8"/>
<circle cx="219.70" cy="220.52" r="0.72" fill="#2828d8"/>
<circle cx="220.90" cy="223.64" r="0.72" fill="#2828d8"/>
<circle cx="219.70" cy="226.76" r="0.72" fill="#2828d8"/>
<circle cx="220.90" cy="229.88" r="0.72" fill="#2828d8"/>
<circle cx="220.30" cy="233.00" r="0.72" fill="#2828d8"/>
<line x1="223.60" y1="220.60" x2="223.60" y2="233.50" stroke="#2fba7e" stroke-width="0.5"/>
<rect x="222.15" y="222.92" width="2.9" height="8.64" fill="#fff" stroke="#2fba7e" stroke-width="0.65"/>
<line x1="222.15" y1="227.24" x2="225.05" y2="227.24" stroke="#2fba7e" stroke-width="0.6"/>
<circle cx="223.60" cy="221.10" r="0.72" fill="#2fba7e"/>
<circle cx="223.00" cy="224.07" r="0.72" fill="#2fba7e"/>
<circle cx="224.20" cy="227.05" r="0.72" fill="#2fba7e"/>
<circle cx="223.00" cy="230.03" r="0.72" fill="#2fba7e"/>
<circle cx="223.60" cy="233.00" r="0.72" fill="#2fba7e"/>
<ellipse cx="229.60" cy="239.10" rx="1.5" ry="1.0" fill="#e8242b"/>
<ellipse cx="233.30" cy="239.10" rx="1.5" ry="1.0" fill="#2828d8"/>
<line x1="237.00" y1="236.00" x2="237.00" y2="239.60" stroke="#2fba7e" stroke-width="0.5"/>
<rect x="235.55" y="236.65" width="2.9" height="2.41" fill="#fff" stroke="#2fba7e" stroke-width="0.65"/>
<line x1="235.55" y1="237.85" x2="238.45" y2="237.85" stroke="#2fba7e" stroke-width="0.6"/>
<circle cx="237.00" cy="236.50" r="0.72" fill="#2fba7e"/>
<circle cx="236.40" cy="237.80" r="0.72" fill="#2fba7e"/>
<circle cx="237.00" cy="239.10" r="0.72" fill="#2fba7e"/>
<text x="247.00" y="196.40" font-size="8.2" text-anchor="start" fill="#000">L</text>
<text transform="translate(288.30,197.00) scale(1,1.1)" font-size="5.2" text-anchor="middle" fill="#000" stroke="#000" stroke-width="0.07"><tspan font-style="italic">Pdcd1lg2</tspan> (PD-L2)</text>
<line x1="260.30" y1="201.90" x2="260.30" y2="239.50" stroke="#444" stroke-width="0.6"/>
<line x1="260.30" y1="239.20" x2="316.75" y2="239.20" stroke="#555" stroke-width="0.7"/>
<line x1="258.90" y1="202.20" x2="260.30" y2="202.20" stroke="#222" stroke-width="0.5"/>
<text x="258.60" y="203.15" font-size="2.6" text-anchor="end" fill="#333">20</text>
<line x1="258.90" y1="211.40" x2="260.30" y2="211.40" stroke="#222" stroke-width="0.5"/>
<text x="258.60" y="212.35" font-size="2.6" text-anchor="end" fill="#333">15</text>
<line x1="258.90" y1="220.70" x2="260.30" y2="220.70" stroke="#222" stroke-width="0.5"/>
<text x="258.60" y="221.65" font-size="2.6" text-anchor="end" fill="#333">10</text>
<line x1="258.90" y1="229.60" x2="260.30" y2="229.60" stroke="#222" stroke-width="0.5"/>
<text x="258.60" y="230.55" font-size="2.6" text-anchor="end" fill="#333">5</text>
<line x1="258.90" y1="239.20" x2="260.30" y2="239.20" stroke="#222" stroke-width="0.5"/>
<text x="258.60" y="240.15" font-size="2.6" text-anchor="end" fill="#333">0</text>
<text transform="translate(249.30,220.70) rotate(-90)" font-size="3.7" text-anchor="middle" fill="#111">Relative <tspan font-style="italic">Pdcd1lg2</tspan> expression</text>
<text transform="translate(253.55,220.70) rotate(-90)" font-size="3.7" text-anchor="middle" fill="#111">(normalized by <tspan font-style="italic">Ubb</tspan>)</text>
<text transform="translate(263.60,242.70) rotate(-50)" font-size="3.9" text-anchor="end" fill="#000" stroke="#000" stroke-width="0.1">Whole tumor</text>
<text transform="translate(273.20,242.70) rotate(-50)" font-size="3.9" text-anchor="end" fill="#000" stroke="#000" stroke-width="0.1">CD8 T cells</text>
<text transform="translate(286.20,242.70) rotate(-50)" font-size="3.9" text-anchor="end" fill="#000" stroke="#000" stroke-width="0.1">Treg</text>
<text transform="translate(298.40,242.70) rotate(-50)" font-size="3.9" text-anchor="end" fill="#000" stroke="#000" stroke-width="0.1">Myeloid cells</text>
<text transform="translate(311.40,242.70) rotate(-50)" font-size="3.9" text-anchor="end" fill="#000" stroke="#000" stroke-width="0.1">NK cells</text>
<line x1="293.90" y1="208.50" x2="300.40" y2="208.50" stroke="#b4b4b4" stroke-width="0.4"/>
<line x1="293.90" y1="208.50" x2="293.90" y2="211.00" stroke="#b4b4b4" stroke-width="0.4"/>
<line x1="300.40" y1="208.50" x2="300.40" y2="211.00" stroke="#b4b4b4" stroke-width="0.4"/>
<circle cx="294.30" cy="206.20" r="0.56" fill="#000"/>
<circle cx="296.20" cy="206.20" r="0.56" fill="#000"/>
<circle cx="298.10" cy="206.20" r="0.56" fill="#000"/>
<circle cx="300.00" cy="206.20" r="0.56" fill="#000"/>
<line x1="297.20" y1="214.10" x2="300.40" y2="214.10" stroke="#b4b4b4" stroke-width="0.4"/>
<line x1="297.20" y1="214.10" x2="297.20" y2="216.60" stroke="#b4b4b4" stroke-width="0.4"/>
<line x1="300.40" y1="214.10" x2="300.40" y2="215.10" stroke="#b4b4b4" stroke-width="0.4"/>
<circle cx="295.95" cy="211.80" r="0.56" fill="#000"/>
<circle cx="297.85" cy="211.80" r="0.56" fill="#000"/>
<circle cx="299.75" cy="211.80" r="0.56" fill="#000"/>
<circle cx="301.65" cy="211.80" r="0.56" fill="#000"/>
<line x1="293.90" y1="220.60" x2="297.20" y2="220.60" stroke="#b4b4b4" stroke-width="0.4"/>
<line x1="293.90" y1="220.60" x2="293.90" y2="222.30" stroke="#b4b4b4" stroke-width="0.4"/>
<line x1="297.20" y1="220.60" x2="297.20" y2="227.00" stroke="#b4b4b4" stroke-width="0.4"/>
<text x="295.55" y="219.10" font-size="3.3" text-anchor="middle" fill="#444">ns</text>
<line x1="262.40" y1="236.50" x2="262.40" y2="239.10" stroke="#111111" stroke-width="0.5"/>
<rect x="261.30" y="236.97" width="2.2" height="1.74" fill="#fff" stroke="#111111" stroke-width="0.65"/>
<line x1="261.30" y1="237.84" x2="263.50" y2="237.84" stroke="#111111" stroke-width="0.6"/>
<circle cx="262.40" cy="237.00" r="0.72" fill="#111111"/>
<circle cx="261.80" cy="237.53" r="0.72" fill="#111111"/>
<circle cx="263.00" cy="238.07" r="0.72" fill="#111111"/>
<circle cx="262.40" cy="238.60" r="0.72" fill="#111111"/>
<ellipse cx="268.90" cy="238.80" rx="1.5" ry="1.0" fill="#e8242b"/>
<ellipse cx="272.00" cy="238.80" rx="1.5" ry="1.0" fill="#2828d8"/>
<ellipse cx="275.40" cy="238.80" rx="1.5" ry="1.0" fill="#2fba7e"/>
<ellipse cx="281.90" cy="238.80" rx="1.5" ry="1.0" fill="#e8242b"/>
<ellipse cx="285.00" cy="238.80" rx="1.5" ry="1.0" fill="#2828d8"/>
<ellipse cx="288.30" cy="238.80" rx="1.5" ry="1.0" fill="#2fba7e"/>
<line x1="293.90" y1="223.30" x2="293.90" y2="237.20" stroke="#e8242b" stroke-width="0.5"/>
<rect x="292.45" y="225.80" width="2.9" height="9.31" fill="#fff" stroke="#e8242b" stroke-width="0.65"/>
<line x1="292.45" y1="230.46" x2="295.35" y2="230.46" stroke="#e8242b" stroke-width="0.6"/>
<circle cx="293.90" cy="223.80" r="0.72" fill="#e8242b"/>
<circle cx="293.30" cy="226.38" r="0.72" fill="#e8242b"/>
<circle cx="294.50" cy="228.96" r="0.72" fill="#e8242b"/>
<circle cx="293.30" cy="231.54" r="0.72" fill="#e8242b"/>
<circle cx="294.50" cy="234.12" r="0.72" fill="#e8242b"/>
<circle cx="293.90" cy="236.70" r="0.72" fill="#e8242b"/>
<line x1="297.20" y1="228.00" x2="297.20" y2="236.30" stroke="#2828d8" stroke-width="0.5"/>
<rect x="295.75" y="229.49" width="2.9" height="5.56" fill="#fff" stroke="#2828d8" stroke-width="0.65"/>
<line x1="295.75" y1="232.27" x2="298.65" y2="232.27" stroke="#2828d8" stroke-width="0.6"/>
<circle cx="297.20" cy="228.50" r="0.72" fill="#2828d8"/>
<circle cx="296.60" cy="230.93" r="0.72" fill="#2828d8"/>
<circle cx="297.80" cy="233.37" r="0.72" fill="#2828d8"/>
<circle cx="297.20" cy="235.80" r="0.72" fill="#2828d8"/>
<line x1="300.40" y1="214.00" x2="300.40" y2="228.00" stroke="#2fba7e" stroke-width="0.5"/>
<rect x="298.95" y="216.52" width="2.9" height="9.38" fill="#fff" stroke="#2fba7e" stroke-width="0.65"/>
<line x1="298.95" y1="221.21" x2="301.85" y2="221.21" stroke="#2fba7e" stroke-width="0.6"/>
<circle cx="300.40" cy="214.50" r="0.72" fill="#2fba7e"/>
<circle cx="299.80" cy="217.10" r="0.72" fill="#2fba7e"/>
<circle cx="301.00" cy="219.70" r="0.72" fill="#2fba7e"/>
<circle cx="299.80" cy="222.30" r="0.72" fill="#2fba7e"/>
<circle cx="301.00" cy="224.90" r="0.72" fill="#2fba7e"/>
<circle cx="300.40" cy="227.50" r="0.72" fill="#2fba7e"/>
<ellipse cx="306.90" cy="238.80" rx="1.5" ry="1.0" fill="#e8242b"/>
<ellipse cx="310.20" cy="238.80" rx="1.5" ry="1.0" fill="#2828d8"/>
<ellipse cx="313.30" cy="238.80" rx="1.5" ry="1.0" fill="#2fba7e"/>
<text x="2.40" y="283.80" font-size="8.2" text-anchor="start" fill="#000">M</text>
<text transform="translate(48.80,284.20) scale(1,1.1)" font-size="5.4" text-anchor="middle" fill="#000" stroke="#000" stroke-width="0.07"><tspan font-style="italic">Tigit</tspan></text>
<line x1="18.50" y1="287.90" x2="18.50" y2="327.90" stroke="#444" stroke-width="0.6"/>
<line x1="18.50" y1="327.60" x2="78.75" y2="327.60" stroke="#555" stroke-width="0.7"/>
<line x1="17.10" y1="288.20" x2="18.50" y2="288.20" stroke="#222" stroke-width="0.5"/>
<text x="16.80" y="289.15" font-size="2.6" text-anchor="end" fill="#333">150</text>
<line x1="17.10" y1="301.10" x2="18.50" y2="301.10" stroke="#222" stroke-width="0.5"/>
<text x="16.80" y="302.05" font-size="2.6" text-anchor="end" fill="#333">100</text>
<line x1="17.10" y1="314.10" x2="18.50" y2="314.10" stroke="#222" stroke-width="0.5"/>
<text x="16.80" y="315.05" font-size="2.6" text-anchor="end" fill="#333">50</text>
<line x1="17.10" y1="327.60" x2="18.50" y2="327.60" stroke="#222" stroke-width="0.5"/>
<text x="16.80" y="328.55" font-size="2.6" text-anchor="end" fill="#333">0</text>
<text transform="translate(4.70,307.90) rotate(-90)" font-size="3.7" text-anchor="middle" fill="#111">Relative <tspan font-style="italic">Tigit</tspan> expression</text>
<text transform="translate(9.10,307.90) rotate(-90)" font-size="3.7" text-anchor="middle" fill="#111">(normalized by <tspan font-style="italic">Ubb</tspan>)</text>
<text transform="translate(22.80,331.10) rotate(-50)" font-size="3.9" text-anchor="end" fill="#000" stroke="#000" stroke-width="0.1">Whole tumor</text>
<text transform="translate(33.20,331.10) rotate(-50)" font-size="3.9" text-anchor="end" fill="#000" stroke="#000" stroke-width="0.1">CD8 T cells</text>
<text transform="translate(46.90,331.10) rotate(-50)" font-size="3.9" text-anchor="end" fill="#000" stroke="#000" stroke-width="0.1">Treg</text>
<text transform="translate(60.40,331.10) rotate(-50)" font-size="3.9" text-anchor="end" fill="#000" stroke="#000" stroke-width="0.1">Myeloid cells</text>
<text transform="translate(74.20,331.10) rotate(-50)" font-size="3.9" text-anchor="end" fill="#000" stroke="#000" stroke-width="0.1">NK cells</text>
<line x1="28.30" y1="303.90" x2="35.10" y2="303.90" stroke="#b4b4b4" stroke-width="0.4"/>
<line x1="28.30" y1="303.90" x2="28.30" y2="306.40" stroke="#b4b4b4" stroke-width="0.4"/>
<line x1="35.10" y1="303.90" x2="35.10" y2="306.40" stroke="#b4b4b4" stroke-width="0.4"/>
<text x="31.70" y="302.40" font-size="3.3" text-anchor="middle" fill="#444">ns</text>
<line x1="32.00" y1="309.50" x2="35.10" y2="309.50" stroke="#b4b4b4" stroke-width="0.4"/>
<line x1="32.00" y1="309.50" x2="32.00" y2="311.70" stroke="#b4b4b4" stroke-width="0.4"/>
<line x1="35.10" y1="309.50" x2="35.10" y2="319.60" stroke="#b4b4b4" stroke-width="0.4"/>
<text x="33.55" y="308.00" font-size="3.3" text-anchor="middle" fill="#444">ns</text>
<line x1="28.30" y1="313.20" x2="32.00" y2="313.20" stroke="#b4b4b4" stroke-width="0.4"/>
<line x1="28.30" y1="313.20" x2="28.30" y2="320.50" stroke="#b4b4b4" stroke-width="0.4"/>
<line x1="32.00" y1="313.20" x2="32.00" y2="314.20" stroke="#b4b4b4" stroke-width="0.4"/>
<text x="30.15" y="311.70" font-size="3.3" text-anchor="middle" fill="#444">ns</text>
<line x1="41.60" y1="291.90" x2="50.00" y2="291.90" stroke="#b4b4b4" stroke-width="0.4"/>
<line x1="41.60" y1="291.90" x2="41.60" y2="294.40" stroke="#b4b4b4" stroke-width="0.4"/>
<line x1="50.00" y1="291.90" x2="50.00" y2="294.40" stroke="#b4b4b4" stroke-width="0.4"/>
<circle cx="45.80" cy="289.60" r="0.56" fill="#000"/>
<line x1="45.70" y1="296.90" x2="50.00" y2="296.90" stroke="#b4b4b4" stroke-width="0.4"/>
<line x1="45.70" y1="296.90" x2="45.70" y2="299.40" stroke="#b4b4b4" stroke-width="0.4"/>
<line x1="50.00" y1="296.90" x2="50.00" y2="310.30" stroke="#b4b4b4" stroke-width="0.4"/>
<circle cx="45.00" cy="294.60" r="0.56" fill="#000"/>
<circle cx="46.90" cy="294.60" r="0.56" fill="#000"/>
<circle cx="48.80" cy="294.60" r="0.56" fill="#000"/>
<circle cx="50.70" cy="294.60" r="0.56" fill="#000"/>
<line x1="41.60" y1="301.10" x2="45.70" y2="301.10" stroke="#b4b4b4" stroke-width="0.4"/>
<line x1="41.60" y1="301.10" x2="41.60" y2="306.60" stroke="#b4b4b4" stroke-width="0.4"/>
<line x1="45.70" y1="301.10" x2="45.70" y2="302.90" stroke="#b4b4b4" stroke-width="0.4"/>
<text x="43.65" y="299.60" font-size="3.3" text-anchor="middle" fill="#444">ns</text>
<ellipse cx="21.60" cy="327.20" rx="1.5" ry="1.0" fill="#111111"/>
<line x1="28.30" y1="321.50" x2="28.30" y2="327.00" stroke="#e8242b" stroke-width="0.5"/>
<rect x="26.85" y="322.49" width="2.9" height="3.69" fill="#fff" stroke="#e8242b" stroke-width="0.65"/>
<line x1="26.85" y1="324.33" x2="29.75" y2="324.33" stroke="#e8242b" stroke-width="0.6"/>
<circle cx="28.30" cy="322.00" r="0.72" fill="#e8242b"/>
<circle cx="27.70" cy="324.25" r="0.72" fill="#e8242b"/>
<circle cx="28.30" cy="326.50" r="0.72" fill="#e8242b"/>
<line x1="32.00" y1="315.00" x2="32.00" y2="322.40" stroke="#2828d8" stroke-width="0.5"/>
<rect x="30.55" y="316.33" width="2.9" height="4.96" fill="#fff" stroke="#2828d8" stroke-width="0.65"/>
<line x1="30.55" y1="318.81" x2="33.45" y2="318.81" stroke="#2828d8" stroke-width="0.6"/>
<circle cx="32.00" cy="315.50" r="0.72" fill="#2828d8"/>
<circle cx="31.40" cy="318.70" r="0.72" fill="#2828d8"/>
<circle cx="32.00" cy="321.90" r="0.72" fill="#2828d8"/>
<line x1="35.10" y1="320.60" x2="35.10" y2="324.30" stroke="#2fba7e" stroke-width="0.5"/>
<rect x="33.65" y="321.27" width="2.9" height="2.48" fill="#fff" stroke="#2fba7e" stroke-width="0.65"/>
<line x1="33.65" y1="322.51" x2="36.55" y2="322.51" stroke="#2fba7e" stroke-width="0.6"/>
<circle cx="35.10" cy="321.10" r="0.72" fill="#2fba7e"/>
<circle cx="34.50" cy="322.45" r="0.72" fill="#2fba7e"/>
<circle cx="35.10" cy="323.80" r="0.72" fill="#2fba7e"/>
<line x1="41.60" y1="307.60" x2="41.60" y2="322.40" stroke="#e8242b" stroke-width="0.5"/>
<rect x="40.15" y="310.26" width="2.9" height="9.92" fill="#fff" stroke="#e8242b" stroke-width="0.65"/>
<line x1="40.15" y1="315.22" x2="43.05" y2="315.22" stroke="#e8242b" stroke-width="0.6"/>
<circle cx="41.60" cy="308.10" r="0.72" fill="#e8242b"/>
<circle cx="41.00" cy="310.86" r="0.72" fill="#e8242b"/>
<circle cx="42.20" cy="313.62" r="0.72" fill="#e8242b"/>
<circle cx="41.00" cy="316.38" r="0.72" fill="#e8242b"/>
<circle cx="42.20" cy="319.14" r="0.72" fill="#e8242b"/>
<circle cx="41.60" cy="321.90" r="0.72" fill="#e8242b"/>
<line x1="45.70" y1="303.90" x2="45.70" y2="317.80" stroke="#2828d8" stroke-width="0.5"/>
<rect x="44.25" y="306.40" width="2.9" height="9.31" fill="#fff" stroke="#2828d8" stroke-width="0.65"/>
<line x1="44.25" y1="311.06" x2="47.15" y2="311.06" stroke="#2828d8" stroke-width="0.6"/>
<circle cx="45.70" cy="304.40" r="0.72" fill="#2828d8"/>
<circle cx="45.10" cy="306.98" r="0.72" fill="#2828d8"/>
<circle cx="46.30" cy="309.56" r="0.72" fill="#2828d8"/>
<circle cx="45.10" cy="312.14" r="0.72" fill="#2828d8"/>
<circle cx="46.30" cy="314.72" r="0.72" fill="#2828d8"/>
<circle cx="45.70" cy="317.30" r="0.72" fill="#2828d8"/>
<line x1="50.00" y1="311.30" x2="50.00" y2="327.60" stroke="#2fba7e" stroke-width="0.5"/>
<rect x="48.55" y="314.23" width="2.9" height="10.92" fill="#fff" stroke="#2fba7e" stroke-width="0.65"/>
<line x1="48.55" y1="319.69" x2="51.45" y2="319.69" stroke="#2fba7e" stroke-width="0.6"/>
<circle cx="50.00" cy="311.80" r="0.72" fill="#2fba7e"/>
<circle cx="49.40" cy="314.86" r="0.72" fill="#2fba7e"/>
<circle cx="50.60" cy="317.92" r="0.72" fill="#2fba7e"/>
<circle cx="49.40" cy="320.98" r="0.72" fill="#2fba7e"/>
<circle cx="50.60" cy="324.04" r="0.72" fill="#2fba7e"/>
<circle cx="50.00" cy="327.10" r="0.72" fill="#2fba7e"/>
<ellipse cx="55.50" cy="327.20" rx="1.5" ry="1.0" fill="#e8242b"/>
<ellipse cx="59.20" cy="327.20" rx="1.5" ry="1.0" fill="#2828d8"/>
<ellipse cx="62.90" cy="327.20" rx="1.5" ry="1.0" fill="#2fba7e"/>
<line x1="69.40" y1="323.00" x2="69.40" y2="327.00" stroke="#e8242b" stroke-width="0.5"/>
<rect x="67.95" y="323.72" width="2.9" height="2.68" fill="#fff" stroke="#e8242b" stroke-width="0.65"/>
<line x1="67.95" y1="325.06" x2="70.85" y2="325.06" stroke="#e8242b" stroke-width="0.6"/>
<circle cx="69.40" cy="323.50" r="0.72" fill="#e8242b"/>
<circle cx="68.80" cy="325.00" r="0.72" fill="#e8242b"/>
<circle cx="69.40" cy="326.50" r="0.72" fill="#e8242b"/>
<line x1="73.00" y1="323.00" x2="73.00" y2="327.00" stroke="#2828d8" stroke-width="0.5"/>
<rect x="71.55" y="323.72" width="2.9" height="2.68" fill="#fff" stroke="#2828d8" stroke-width="0.65"/>
<line x1="71.55" y1="325.06" x2="74.45" y2="325.06" stroke="#2828d8" stroke-width="0.6"/>
<circle cx="73.00" cy="323.50" r="0.72" fill="#2828d8"/>
<circle cx="72.40" cy="325.00" r="0.72" fill="#2828d8"/>
<circle cx="73.00" cy="326.50" r="0.72" fill="#2828d8"/>
<line x1="76.50" y1="325.00" x2="76.50" y2="327.60" stroke="#2fba7e" stroke-width="0.5"/>
<rect x="75.05" y="325.47" width="2.9" height="1.74" fill="#fff" stroke="#2fba7e" stroke-width="0.65"/>
<line x1="75.05" y1="326.34" x2="77.95" y2="326.34" stroke="#2fba7e" stroke-width="0.6"/>
<circle cx="76.50" cy="325.50" r="0.72" fill="#2fba7e"/>
<circle cx="75.90" cy="326.30" r="0.72" fill="#2fba7e"/>
<circle cx="76.50" cy="327.10" r="0.72" fill="#2fba7e"/>
<text x="83.30" y="283.80" font-size="8.2" text-anchor="start" fill="#000">N</text>
<text transform="translate(128.60,284.30) scale(1,1.1)" font-size="5.4" text-anchor="middle" fill="#000" stroke="#000" stroke-width="0.07"><tspan font-style="italic">Cd226</tspan> (DNAM-1)</text>
<line x1="98.30" y1="288.00" x2="98.30" y2="328.10" stroke="#444" stroke-width="0.6"/>
<line x1="98.30" y1="327.80" x2="157.25" y2="327.80" stroke="#555" stroke-width="0.7"/>
<line x1="96.90" y1="288.20" x2="98.30" y2="288.20" stroke="#222" stroke-width="0.5"/>
<text x="96.60" y="289.15" font-size="2.6" text-anchor="end" fill="#333">40</text>
<line x1="96.90" y1="298.00" x2="98.30" y2="298.00" stroke="#222" stroke-width="0.5"/>
<text x="96.60" y="298.95" font-size="2.6" text-anchor="end" fill="#333">30</text>
<line x1="96.90" y1="307.60" x2="98.30" y2="307.60" stroke="#222" stroke-width="0.5"/>
<text x="96.60" y="308.55" font-size="2.6" text-anchor="end" fill="#333">20</text>
<line x1="96.90" y1="317.40" x2="98.30" y2="317.40" stroke="#222" stroke-width="0.5"/>
<text x="96.60" y="318.35" font-size="2.6" text-anchor="end" fill="#333">10</text>
<line x1="96.90" y1="327.60" x2="98.30" y2="327.60" stroke="#222" stroke-width="0.5"/>
<text x="96.60" y="328.55" font-size="2.6" text-anchor="end" fill="#333">0</text>
<text transform="translate(84.20,308.05) rotate(-90)" font-size="3.7" text-anchor="middle" fill="#111">Relative <tspan font-style="italic">Cd226</tspan> expression</text>
<text transform="translate(89.10,308.05) rotate(-90)" font-size="3.7" text-anchor="middle" fill="#111">(normalized by <tspan font-style="italic">Ubb</tspan>)</text>
<text transform="translate(102.00,331.30) rotate(-50)" font-size="3.9" text-anchor="end" fill="#000" stroke="#000" stroke-width="0.1">Whole tumor</text>
<text transform="translate(112.40,331.30) rotate(-50)" font-size="3.9" text-anchor="end" fill="#000" stroke="#000" stroke-width="0.1">CD8 T cells</text>
<text transform="translate(126.60,331.30) rotate(-50)" font-size="3.9" text-anchor="end" fill="#000" stroke="#000" stroke-width="0.1">Treg</text>
<text transform="translate(139.60,331.30) rotate(-50)" font-size="3.9" text-anchor="end" fill="#000" stroke="#000" stroke-width="0.1">Myeloid cells</text>
<text transform="translate(153.10,331.30) rotate(-50)" font-size="3.9" text-anchor="end" fill="#000" stroke="#000" stroke-width="0.1">NK cells</text>
<line x1="108.20" y1="293.20" x2="115.00" y2="293.20" stroke="#b4b4b4" stroke-width="0.4"/>
<line x1="108.20" y1="293.20" x2="108.20" y2="295.70" stroke="#b4b4b4" stroke-width="0.4"/>
<line x1="115.00" y1="293.20" x2="115.00" y2="295.70" stroke="#b4b4b4" stroke-width="0.4"/>
<circle cx="108.75" cy="290.90" r="0.56" fill="#000"/>
<circle cx="110.65" cy="290.90" r="0.56" fill="#000"/>
<circle cx="112.55" cy="290.90" r="0.56" fill="#000"/>
<circle cx="114.45" cy="290.90" r="0.56" fill="#000"/>
<line x1="111.20" y1="299.00" x2="115.00" y2="299.00" stroke="#b4b4b4" stroke-width="0.4"/>
<line x1="111.20" y1="299.00" x2="111.20" y2="301.50" stroke="#b4b4b4" stroke-width="0.4"/>
<line x1="115.00" y1="299.00" x2="115.00" y2="300.30" stroke="#b4b4b4" stroke-width="0.4"/>
<circle cx="111.20" cy="296.70" r="0.56" fill="#000"/>
<circle cx="113.10" cy="296.70" r="0.56" fill="#000"/>
<circle cx="115.00" cy="296.70" r="0.56" fill="#000"/>
<line x1="108.20" y1="309.20" x2="111.20" y2="309.20" stroke="#b4b4b4" stroke-width="0.4"/>
<line x1="108.20" y1="309.20" x2="108.20" y2="325.30" stroke="#b4b4b4" stroke-width="0.4"/>
<line x1="111.20" y1="309.20" x2="111.20" y2="310.20" stroke="#b4b4b4" stroke-width="0.4"/>
<circle cx="106.85" cy="306.90" r="0.56" fill="#000"/>
<circle cx="108.75" cy="306.90" r="0.56" fill="#000"/>
<circle cx="110.65" cy="306.90" r="0.56" fill="#000"/>
<circle cx="112.55" cy="306.90" r="0.56" fill="#000"/>
<line x1="148.20" y1="294.50" x2="155.50" y2="294.50" stroke="#b4b4b4" stroke-width="0.4"/>
<line x1="148.20" y1="294.50" x2="148.20" y2="297.00" stroke="#b4b4b4" stroke-width="0.4"/>
<line x1="155.50" y1="294.50" x2="155.50" y2="297.00" stroke="#b4b4b4" stroke-width="0.4"/>
<circle cx="149.95" cy="292.20" r="0.56" fill="#000"/>
<circle cx="151.85" cy="292.20" r="0.56" fill="#000"/>
<circle cx="153.75" cy="292.20" r="0.56" fill="#000"/>
<line x1="148.20" y1="300.70" x2="151.90" y2="300.70" stroke="#b4b4b4" stroke-width="0.4"/>
<line x1="148.20" y1="300.70" x2="148.20" y2="318.70" stroke="#b4b4b4" stroke-width="0.4"/>
<line x1="151.90" y1="300.70" x2="151.90" y2="303.20" stroke="#b4b4b4" stroke-width="0.4"/>
<text x="150.05" y="299.20" font-size="3.3" text-anchor="middle" fill="#444">ns</text>
<line x1="151.90" y1="307.00" x2="155.50" y2="307.00" stroke="#b4b4b4" stroke-width="0.4"/>
<line x1="151.90" y1="307.00" x2="151.90" y2="317.00" stroke="#b4b4b4" stroke-width="0.4"/>
<line x1="155.50" y1="307.00" x2="155.50" y2="309.50" stroke="#b4b4b4" stroke-width="0.4"/>
<circle cx="151.80" cy="304.70" r="0.56" fill="#000"/>
<circle cx="153.70" cy="304.70" r="0.56" fill="#000"/>
<circle cx="155.60" cy="304.70" r="0.56" fill="#000"/>
<ellipse cx="100.80" cy="326.55" rx="1.5" ry="1.05" fill="#111111"/>
<ellipse cx="108.20" cy="327.40" rx="1.5" ry="1.0" fill="#e8242b"/>
<line x1="111.20" y1="310.50" x2="111.20" y2="316.70" stroke="#2828d8" stroke-width="0.5"/>
<rect x="109.75" y="311.62" width="2.9" height="4.15" fill="#fff" stroke="#2828d8" stroke-width="0.65"/>
<line x1="109.75" y1="313.69" x2="112.65" y2="313.69" stroke="#2828d8" stroke-width="0.6"/>
<circle cx="111.20" cy="311.00" r="0.72" fill="#2828d8"/>
<circle cx="110.60" cy="313.60" r="0.72" fill="#2828d8"/>
<circle cx="111.20" cy="316.20" r="0.72" fill="#2828d8"/>
<line x1="115.00" y1="301.30" x2="115.00" y2="313.60" stroke="#2fba7e" stroke-width="0.5"/>
<rect x="113.55" y="303.51" width="2.9" height="8.24" fill="#fff" stroke="#2fba7e" stroke-width="0.65"/>
<line x1="113.55" y1="307.63" x2="116.45" y2="307.63" stroke="#2fba7e" stroke-width="0.6"/>
<circle cx="115.00" cy="301.80" r="0.72" fill="#2fba7e"/>
<circle cx="114.40" cy="304.62" r="0.72" fill="#2fba7e"/>
<circle cx="115.60" cy="307.45" r="0.72" fill="#2fba7e"/>
<circle cx="114.40" cy="310.28" r="0.72" fill="#2fba7e"/>
<circle cx="115.00" cy="313.10" r="0.72" fill="#2fba7e"/>
<ellipse cx="121.70" cy="326.55" rx="1.5" ry="1.05" fill="#e8242b"/>
<line x1="125.40" y1="324.00" x2="125.40" y2="327.60" stroke="#2828d8" stroke-width="0.5"/>
<rect x="123.95" y="324.65" width="2.9" height="2.41" fill="#fff" stroke="#2828d8" stroke-width="0.65"/>
<line x1="123.95" y1="325.85" x2="126.85" y2="325.85" stroke="#2828d8" stroke-width="0.6"/>
<circle cx="125.40" cy="324.50" r="0.72" fill="#2828d8"/>
<circle cx="124.80" cy="325.80" r="0.72" fill="#2828d8"/>
<circle cx="125.40" cy="327.10" r="0.72" fill="#2828d8"/>
<line x1="128.60" y1="320.00" x2="128.60" y2="327.60" stroke="#2fba7e" stroke-width="0.5"/>
<rect x="127.15" y="321.37" width="2.9" height="5.09" fill="#fff" stroke="#2fba7e" stroke-width="0.65"/>
<line x1="127.15" y1="323.91" x2="130.05" y2="323.91" stroke="#2fba7e" stroke-width="0.6"/>
<circle cx="128.60" cy="320.50" r="0.72" fill="#2fba7e"/>
<circle cx="128.00" cy="323.80" r="0.72" fill="#2fba7e"/>
<circle cx="128.60" cy="327.10" r="0.72" fill="#2fba7e"/>
<ellipse cx="134.70" cy="326.55" rx="1.5" ry="1.05" fill="#e8242b"/>
<ellipse cx="138.40" cy="326.80" rx="1.5" ry="1.00" fill="#2828d8"/>
<ellipse cx="141.50" cy="327.40" rx="1.5" ry="1.0" fill="#2fba7e"/>
<line x1="148.20" y1="319.70" x2="148.20" y2="323.40" stroke="#e8242b" stroke-width="0.5"/>
<rect x="146.75" y="320.37" width="2.9" height="2.48" fill="#fff" stroke="#e8242b" stroke-width="0.65"/>
<line x1="146.75" y1="321.61" x2="149.65" y2="321.61" stroke="#e8242b" stroke-width="0.6"/>
<circle cx="148.20" cy="320.20" r="0.72" fill="#e8242b"/>
<circle cx="147.60" cy="321.55" r="0.72" fill="#e8242b"/>
<circle cx="148.20" cy="322.90" r="0.72" fill="#e8242b"/>
<line x1="151.90" y1="318.00" x2="151.90" y2="323.00" stroke="#2828d8" stroke-width="0.5"/>
<rect x="150.45" y="318.90" width="2.9" height="3.35" fill="#fff" stroke="#2828d8" stroke-width="0.65"/>
<line x1="150.45" y1="320.57" x2="153.35" y2="320.57" stroke="#2828d8" stroke-width="0.6"/>
<circle cx="151.90" cy="318.50" r="0.72" fill="#2828d8"/>
<circle cx="151.30" cy="320.50" r="0.72" fill="#2828d8"/>
<circle cx="151.90" cy="322.50" r="0.72" fill="#2828d8"/>
<line x1="155.50" y1="310.50" x2="155.50" y2="318.00" stroke="#2fba7e" stroke-width="0.5"/>
<rect x="154.05" y="311.85" width="2.9" height="5.02" fill="#fff" stroke="#2fba7e" stroke-width="0.65"/>
<line x1="154.05" y1="314.36" x2="156.95" y2="314.36" stroke="#2fba7e" stroke-width="0.6"/>
<circle cx="155.50" cy="311.00" r="0.72" fill="#2fba7e"/>
<circle cx="154.90" cy="314.25" r="0.72" fill="#2fba7e"/>
<circle cx="155.50" cy="317.50" r="0.72" fill="#2fba7e"/>
<text x="167.20" y="283.80" font-size="8.2" text-anchor="start" fill="#000">O</text>
<text transform="translate(212.00,284.10) scale(1,1.1)" font-size="5.4" text-anchor="middle" fill="#000" stroke="#000" stroke-width="0.07"><tspan font-style="italic">Pvr</tspan> (CD155)</text>
<line x1="180.50" y1="286.20" x2="180.50" y2="328.10" stroke="#444" stroke-width="0.6"/>
<line x1="180.50" y1="327.80" x2="242.00" y2="327.80" stroke="#555" stroke-width="0.7"/>
<line x1="179.10" y1="286.30" x2="180.50" y2="286.30" stroke="#222" stroke-width="0.5"/>
<text x="178.80" y="287.25" font-size="2.6" text-anchor="end" fill="#333">3</text>
<line x1="179.10" y1="300.20" x2="180.50" y2="300.20" stroke="#222" stroke-width="0.5"/>
<text x="178.80" y="301.15" font-size="2.6" text-anchor="end" fill="#333">2</text>
<line x1="179.10" y1="314.10" x2="180.50" y2="314.10" stroke="#222" stroke-width="0.5"/>
<text x="178.80" y="315.05" font-size="2.6" text-anchor="end" fill="#333">1</text>
<line x1="179.10" y1="327.60" x2="180.50" y2="327.60" stroke="#222" stroke-width="0.5"/>
<text x="178.80" y="328.55" font-size="2.6" text-anchor="end" fill="#333">0</text>
<text transform="translate(169.20,307.15) rotate(-90)" font-size="3.7" text-anchor="middle" fill="#111">Relative <tspan font-style="italic">Pvr</tspan> expression</text>
<text transform="translate(174.10,307.15) rotate(-90)" font-size="3.7" text-anchor="middle" fill="#111">(normalized by <tspan font-style="italic">Ubb</tspan>)</text>
<text transform="translate(185.20,331.30) rotate(-50)" font-size="3.9" text-anchor="end" fill="#000" stroke="#000" stroke-width="0.1">Whole tumor</text>
<text transform="translate(195.30,331.30) rotate(-50)" font-size="3.9" text-anchor="end" fill="#000" stroke="#000" stroke-width="0.1">CD8 T cells</text>
<text transform="translate(209.50,331.30) rotate(-50)" font-size="3.9" text-anchor="end" fill="#000" stroke="#000" stroke-width="0.1">Treg</text>
<text transform="translate(223.30,331.30) rotate(-50)" font-size="3.9" text-anchor="end" fill="#000" stroke="#000" stroke-width="0.1">Myeloid cells</text>
<text transform="translate(237.50,331.30) rotate(-50)" font-size="3.9" text-anchor="end" fill="#000" stroke="#000" stroke-width="0.1">NK cells</text>
<line x1="190.70" y1="304.40" x2="197.80" y2="304.40" stroke="#b4b4b4" stroke-width="0.4"/>
<line x1="190.70" y1="304.40" x2="190.70" y2="306.90" stroke="#b4b4b4" stroke-width="0.4"/>
<line x1="197.80" y1="304.40" x2="197.80" y2="306.90" stroke="#b4b4b4" stroke-width="0.4"/>
<text x="194.25" y="302.90" font-size="3.3" text-anchor="middle" fill="#444">ns</text>
<line x1="194.10" y1="308.70" x2="197.80" y2="308.70" stroke="#b4b4b4" stroke-width="0.4"/>
<line x1="194.10" y1="308.70" x2="194.10" y2="311.20" stroke="#b4b4b4" stroke-width="0.4"/>
<line x1="197.80" y1="308.70" x2="197.80" y2="311.40" stroke="#b4b4b4" stroke-width="0.4"/>
<text x="195.95" y="307.20" font-size="3.3" text-anchor="middle" fill="#444">ns</text>
<line x1="190.70" y1="314.20" x2="194.10" y2="314.20" stroke="#b4b4b4" stroke-width="0.4"/>
<line x1="190.70" y1="314.20" x2="190.70" y2="325.00" stroke="#b4b4b4" stroke-width="0.4"/>
<line x1="194.10" y1="314.20" x2="194.10" y2="315.70" stroke="#b4b4b4" stroke-width="0.4"/>
<text x="192.40" y="312.70" font-size="3.3" text-anchor="middle" fill="#444">ns</text>
<line x1="218.10" y1="288.70" x2="225.90" y2="288.70" stroke="#b4b4b4" stroke-width="0.4"/>
<line x1="218.10" y1="288.70" x2="218.10" y2="291.20" stroke="#b4b4b4" stroke-width="0.4"/>
<line x1="225.90" y1="288.70" x2="225.90" y2="291.20" stroke="#b4b4b4" stroke-width="0.4"/>
<circle cx="222.00" cy="286.40" r="0.56" fill="#000"/>
<line x1="222.10" y1="292.80" x2="225.90" y2="292.80" stroke="#b4b4b4" stroke-width="0.4"/>
<line x1="222.10" y1="292.80" x2="222.10" y2="295.30" stroke="#b4b4b4" stroke-width="0.4"/>
<line x1="225.90" y1="292.80" x2="225.90" y2="296.40" stroke="#b4b4b4" stroke-width="0.4"/>
<text x="224.00" y="291.30" font-size="3.3" text-anchor="middle" fill="#444">ns</text>
<line x1="218.10" y1="301.70" x2="222.10" y2="301.70" stroke="#b4b4b4" stroke-width="0.4"/>
<line x1="218.10" y1="301.70" x2="218.10" y2="307.60" stroke="#b4b4b4" stroke-width="0.4"/>
<line x1="222.10" y1="301.70" x2="222.10" y2="303.90" stroke="#b4b4b4" stroke-width="0.4"/>
<text x="220.10" y="300.20" font-size="3.3" text-anchor="middle" fill="#444">ns</text>
<line x1="184.00" y1="307.50" x2="184.00" y2="319.80" stroke="#111111" stroke-width="0.5"/>
<rect x="182.90" y="309.71" width="2.2" height="8.24" fill="#fff" stroke="#111111" stroke-width="0.65"/>
<line x1="182.90" y1="313.83" x2="185.10" y2="313.83" stroke="#111111" stroke-width="0.6"/>
<circle cx="184.00" cy="308.00" r="0.72" fill="#111111"/>
<circle cx="183.40" cy="310.82" r="0.72" fill="#111111"/>
<circle cx="184.60" cy="313.65" r="0.72" fill="#111111"/>
<circle cx="183.40" cy="316.48" r="0.72" fill="#111111"/>
<circle cx="184.00" cy="319.30" r="0.72" fill="#111111"/>
<ellipse cx="190.70" cy="326.80" rx="1.5" ry="1.00" fill="#e8242b"/>
<line x1="194.10" y1="316.70" x2="194.10" y2="326.00" stroke="#2828d8" stroke-width="0.5"/>
<rect x="192.65" y="318.37" width="2.9" height="6.23" fill="#fff" stroke="#2828d8" stroke-width="0.65"/>
<line x1="192.65" y1="321.49" x2="195.55" y2="321.49" stroke="#2828d8" stroke-width="0.6"/>
<circle cx="194.10" cy="317.20" r="0.72" fill="#2828d8"/>
<circle cx="193.50" cy="319.97" r="0.72" fill="#2828d8"/>
<circle cx="194.70" cy="322.73" r="0.72" fill="#2828d8"/>
<circle cx="194.10" cy="325.50" r="0.72" fill="#2828d8"/>
<line x1="197.80" y1="312.40" x2="197.80" y2="327.80" stroke="#2fba7e" stroke-width="0.5"/>
<rect x="196.35" y="315.17" width="2.9" height="10.32" fill="#fff" stroke="#2fba7e" stroke-width="0.65"/>
<line x1="196.35" y1="320.33" x2="199.25" y2="320.33" stroke="#2fba7e" stroke-width="0.6"/>
<circle cx="197.80" cy="312.90" r="0.72" fill="#2fba7e"/>
<circle cx="197.20" cy="315.78" r="0.72" fill="#2fba7e"/>
<circle cx="198.40" cy="318.66" r="0.72" fill="#2fba7e"/>
<circle cx="197.20" cy="321.54" r="0.72" fill="#2fba7e"/>
<circle cx="198.40" cy="324.42" r="0.72" fill="#2fba7e"/>
<circle cx="197.80" cy="327.30" r="0.72" fill="#2fba7e"/>
<line x1="204.60" y1="322.00" x2="204.60" y2="327.60" stroke="#e8242b" stroke-width="0.5"/>
<rect x="203.15" y="323.01" width="2.9" height="3.75" fill="#fff" stroke="#e8242b" stroke-width="0.65"/>
<line x1="203.15" y1="324.88" x2="206.05" y2="324.88" stroke="#e8242b" stroke-width="0.6"/>
<circle cx="204.60" cy="322.50" r="0.72" fill="#e8242b"/>
<circle cx="204.00" cy="324.80" r="0.72" fill="#e8242b"/>
<circle cx="204.60" cy="327.10" r="0.72" fill="#e8242b"/>
<line x1="208.30" y1="303.00" x2="208.30" y2="324.30" stroke="#2828d8" stroke-width="0.5"/>
<rect x="206.85" y="306.83" width="2.9" height="14.27" fill="#fff" stroke="#2828d8" stroke-width="0.65"/>
<line x1="206.85" y1="313.97" x2="209.75" y2="313.97" stroke="#2828d8" stroke-width="0.6"/>
<circle cx="208.30" cy="303.50" r="0.72" fill="#2828d8"/>
<circle cx="207.70" cy="307.56" r="0.72" fill="#2828d8"/>
<circle cx="208.90" cy="311.62" r="0.72" fill="#2828d8"/>
<circle cx="207.70" cy="315.68" r="0.72" fill="#2828d8"/>
<circle cx="208.90" cy="319.74" r="0.72" fill="#2828d8"/>
<circle cx="208.30" cy="323.80" r="0.72" fill="#2828d8"/>
<line x1="212.00" y1="320.00" x2="212.00" y2="327.60" stroke="#2fba7e" stroke-width="0.5"/>
<rect x="210.55" y="321.37" width="2.9" height="5.09" fill="#fff" stroke="#2fba7e" stroke-width="0.65"/>
<line x1="210.55" y1="323.91" x2="213.45" y2="323.91" stroke="#2fba7e" stroke-width="0.6"/>
<circle cx="212.00" cy="320.50" r="0.72" fill="#2fba7e"/>
<circle cx="211.40" cy="323.80" r="0.72" fill="#2fba7e"/>
<circle cx="212.00" cy="327.10" r="0.72" fill="#2fba7e"/>
<line x1="218.10" y1="308.60" x2="218.10" y2="316.00" stroke="#e8242b" stroke-width="0.5"/>
<rect x="216.65" y="309.93" width="2.9" height="4.96" fill="#fff" stroke="#e8242b" stroke-width="0.65"/>
<line x1="216.65" y1="312.41" x2="219.55" y2="312.41" stroke="#e8242b" stroke-width="0.6"/>
<circle cx="218.10" cy="309.10" r="0.72" fill="#e8242b"/>
<circle cx="217.50" cy="312.30" r="0.72" fill="#e8242b"/>
<circle cx="218.10" cy="315.50" r="0.72" fill="#e8242b"/>
<line x1="222.10" y1="304.90" x2="222.10" y2="317.80" stroke="#2828d8" stroke-width="0.5"/>
<rect x="220.65" y="307.22" width="2.9" height="8.64" fill="#fff" stroke="#2828d8" stroke-width="0.65"/>
<line x1="220.65" y1="311.54" x2="223.55" y2="311.54" stroke="#2828d8" stroke-width="0.6"/>
<circle cx="222.10" cy="305.40" r="0.72" fill="#2828d8"/>
<circle cx="221.50" cy="308.38" r="0.72" fill="#2828d8"/>
<circle cx="222.70" cy="311.35" r="0.72" fill="#2828d8"/>
<circle cx="221.50" cy="314.32" r="0.72" fill="#2828d8"/>
<circle cx="222.10" cy="317.30" r="0.72" fill="#2828d8"/>
<line x1="225.90" y1="297.40" x2="225.90" y2="311.30" stroke="#2fba7e" stroke-width="0.5"/>
<rect x="224.45" y="299.90" width="2.9" height="9.31" fill="#fff" stroke="#2fba7e" stroke-width="0.65"/>
<line x1="224.45" y1="304.56" x2="227.35" y2="304.56" stroke="#2fba7e" stroke-width="0.6"/>
<circle cx="225.90" cy="297.90" r="0.72" fill="#2fba7e"/>
<circle cx="225.30" cy="300.48" r="0.72" fill="#2fba7e"/>
<circle cx="226.50" cy="303.06" r="0.72" fill="#2fba7e"/>
<circle cx="225.30" cy="305.64" r="0.72" fill="#2fba7e"/>
<circle cx="226.50" cy="308.22" r="0.72" fill="#2fba7e"/>
<circle cx="225.90" cy="310.80" r="0.72" fill="#2fba7e"/>
<line x1="232.30" y1="318.00" x2="232.30" y2="327.60" stroke="#e8242b" stroke-width="0.5"/>
<rect x="230.85" y="319.73" width="2.9" height="6.43" fill="#fff" stroke="#e8242b" stroke-width="0.65"/>
<line x1="230.85" y1="322.94" x2="233.75" y2="322.94" stroke="#e8242b" stroke-width="0.6"/>
<circle cx="232.30" cy="318.50" r="0.72" fill="#e8242b"/>
<circle cx="231.70" cy="321.37" r="0.72" fill="#e8242b"/>
<circle cx="232.90" cy="324.23" r="0.72" fill="#e8242b"/>
<circle cx="232.30" cy="327.10" r="0.72" fill="#e8242b"/>
<line x1="236.30" y1="318.00" x2="236.30" y2="326.50" stroke="#2828d8" stroke-width="0.5"/>
<rect x="234.85" y="319.53" width="2.9" height="5.70" fill="#fff" stroke="#2828d8" stroke-width="0.65"/>
<line x1="234.85" y1="322.38" x2="237.75" y2="322.38" stroke="#2828d8" stroke-width="0.6"/>
<circle cx="236.30" cy="318.50" r="0.72" fill="#2828d8"/>
<circle cx="235.70" cy="321.00" r="0.72" fill="#2828d8"/>
<circle cx="236.90" cy="323.50" r="0.72" fill="#2828d8"/>
<circle cx="236.30" cy="326.00" r="0.72" fill="#2828d8"/>
<line x1="240.00" y1="322.00" x2="240.00" y2="327.60" stroke="#2fba7e" stroke-width="0.5"/>
<rect x="238.55" y="323.01" width="2.9" height="3.75" fill="#fff" stroke="#2fba7e" stroke-width="0.65"/>
<line x1="238.55" y1="324.88" x2="241.45" y2="324.88" stroke="#2fba7e" stroke-width="0.6"/>
<circle cx="240.00" cy="322.50" r="0.72" fill="#2fba7e"/>
<circle cx="239.40" cy="324.80" r="0.72" fill="#2fba7e"/>
<circle cx="240.00" cy="327.10" r="0.72" fill="#2fba7e"/>
<text x="2.40" y="374.90" font-size="8.2" text-anchor="start" fill="#000">P</text>
<text transform="translate(48.30,376.60) scale(1,1.1)" font-size="5.8" text-anchor="middle" fill="#000" stroke="#000" stroke-width="0.07"><tspan font-style="italic">Cd80</tspan> (B7-1)</text>
<line x1="18.50" y1="378.00" x2="18.50" y2="418.10" stroke="#444" stroke-width="0.6"/>
<line x1="18.50" y1="417.80" x2="77.50" y2="417.80" stroke="#555" stroke-width="0.7"/>
<line x1="17.10" y1="378.00" x2="18.50" y2="378.00" stroke="#222" stroke-width="0.5"/>
<text x="16.80" y="378.95" font-size="2.6" text-anchor="end" fill="#333">30</text>
<line x1="17.10" y1="391.60" x2="18.50" y2="391.60" stroke="#222" stroke-width="0.5"/>
<text x="16.80" y="392.55" font-size="2.6" text-anchor="end" fill="#333">20</text>
<line x1="17.10" y1="404.90" x2="18.50" y2="404.90" stroke="#222" stroke-width="0.5"/>
<text x="16.80" y="405.85" font-size="2.6" text-anchor="end" fill="#333">10</text>
<line x1="17.10" y1="418.40" x2="18.50" y2="418.40" stroke="#222" stroke-width="0.5"/>
<text x="16.80" y="419.35" font-size="2.6" text-anchor="end" fill="#333">0</text>
<text transform="translate(6.90,398.05) rotate(-90)" font-size="3.7" text-anchor="middle" fill="#111">Relative <tspan font-style="italic">Cd80</tspan> expression</text>
<text transform="translate(11.80,398.05) rotate(-90)" font-size="3.7" text-anchor="middle" fill="#111">(normalized by <tspan font-style="italic">Ubb</tspan>)</text>
<text transform="translate(22.50,421.30) rotate(-50)" font-size="3.9" text-anchor="end" fill="#000" stroke="#000" stroke-width="0.1">Whole tumor</text>
<text transform="translate(33.40,421.30) rotate(-50)" font-size="3.9" text-anchor="end" fill="#000" stroke="#000" stroke-width="0.1">CD8 T cells</text>
<text transform="translate(46.20,421.30) rotate(-50)" font-size="3.9" text-anchor="end" fill="#000" stroke="#000" stroke-width="0.1">Treg</text>
<text transform="translate(59.80,421.30) rotate(-50)" font-size="3.9" text-anchor="end" fill="#000" stroke="#000" stroke-width="0.1">Myeloid cells</text>
<text transform="translate(73.40,421.30) rotate(-50)" font-size="3.9" text-anchor="end" fill="#000" stroke="#000" stroke-width="0.1">NK cells</text>
<line x1="28.80" y1="392.00" x2="35.50" y2="392.00" stroke="#b4b4b4" stroke-width="0.4"/>
<line x1="28.80" y1="392.00" x2="28.80" y2="394.50" stroke="#b4b4b4" stroke-width="0.4"/>
<line x1="35.50" y1="392.00" x2="35.50" y2="394.50" stroke="#b4b4b4" stroke-width="0.4"/>
<circle cx="31.20" cy="389.70" r="0.56" fill="#000"/>
<circle cx="33.10" cy="389.70" r="0.56" fill="#000"/>
<line x1="28.80" y1="399.80" x2="32.20" y2="399.80" stroke="#b4b4b4" stroke-width="0.4"/>
<line x1="28.80" y1="399.80" x2="28.80" y2="415.30" stroke="#b4b4b4" stroke-width="0.4"/>
<line x1="32.20" y1="399.80" x2="32.20" y2="402.30" stroke="#b4b4b4" stroke-width="0.4"/>
<text x="30.50" y="398.30" font-size="3.3" text-anchor="middle" fill="#444">ns</text>
<line x1="32.20" y1="406.00" x2="35.50" y2="406.00" stroke="#b4b4b4" stroke-width="0.4"/>
<line x1="32.20" y1="406.00" x2="32.20" y2="409.60" stroke="#b4b4b4" stroke-width="0.4"/>
<line x1="35.50" y1="406.00" x2="35.50" y2="407.60" stroke="#b4b4b4" stroke-width="0.4"/>
<text x="33.85" y="404.50" font-size="3.3" text-anchor="middle" fill="#444">ns</text>
<line x1="41.70" y1="398.40" x2="49.10" y2="398.40" stroke="#b4b4b4" stroke-width="0.4"/>
<line x1="41.70" y1="398.40" x2="41.70" y2="400.90" stroke="#b4b4b4" stroke-width="0.4"/>
<line x1="49.10" y1="398.40" x2="49.10" y2="400.90" stroke="#b4b4b4" stroke-width="0.4"/>
<text x="45.40" y="396.90" font-size="3.3" text-anchor="middle" fill="#444">ns</text>
<line x1="45.00" y1="403.90" x2="49.10" y2="403.90" stroke="#b4b4b4" stroke-width="0.4"/>
<line x1="45.00" y1="403.90" x2="45.00" y2="406.40" stroke="#b4b4b4" stroke-width="0.4"/>
<line x1="49.10" y1="403.90" x2="49.10" y2="411.00" stroke="#b4b4b4" stroke-width="0.4"/>
<text x="47.05" y="402.40" font-size="3.3" text-anchor="middle" fill="#444">ns</text>
<line x1="41.70" y1="410.00" x2="45.00" y2="410.00" stroke="#b4b4b4" stroke-width="0.4"/>
<line x1="41.70" y1="410.00" x2="41.70" y2="415.30" stroke="#b4b4b4" stroke-width="0.4"/>
<line x1="45.00" y1="410.00" x2="45.00" y2="411.70" stroke="#b4b4b4" stroke-width="0.4"/>
<text x="43.35" y="408.50" font-size="3.3" text-anchor="middle" fill="#444">ns</text>
<line x1="55.20" y1="384.40" x2="62.70" y2="384.40" stroke="#b4b4b4" stroke-width="0.4"/>
<line x1="55.20" y1="384.40" x2="55.20" y2="386.90" stroke="#b4b4b4" stroke-width="0.4"/>
<line x1="62.70" y1="384.40" x2="62.70" y2="386.90" stroke="#b4b4b4" stroke-width="0.4"/>
<circle cx="57.05" cy="382.10" r="0.56" fill="#000"/>
<circle cx="58.95" cy="382.10" r="0.56" fill="#000"/>
<circle cx="60.85" cy="382.10" r="0.56" fill="#000"/>
<line x1="58.60" y1="390.30" x2="62.70" y2="390.30" stroke="#b4b4b4" stroke-width="0.4"/>
<line x1="58.60" y1="390.30" x2="58.60" y2="392.80" stroke="#b4b4b4" stroke-width="0.4"/>
<line x1="62.70" y1="390.30" x2="62.70" y2="396.70" stroke="#b4b4b4" stroke-width="0.4"/>
<text x="60.65" y="388.80" font-size="3.3" text-anchor="middle" fill="#444">ns</text>
<line x1="55.20" y1="396.10" x2="58.60" y2="396.10" stroke="#b4b4b4" stroke-width="0.4"/>
<line x1="55.20" y1="396.10" x2="55.20" y2="402.20" stroke="#b4b4b4" stroke-width="0.4"/>
<line x1="58.60" y1="396.10" x2="58.60" y2="398.00" stroke="#b4b4b4" stroke-width="0.4"/>
<text x="56.90" y="394.60" font-size="3.3" text-anchor="middle" fill="#444">ns</text>
<line x1="21.30" y1="416.00" x2="21.30" y2="418.40" stroke="#111111" stroke-width="0.5"/>
<rect x="20.20" y="416.43" width="2.2" height="1.61" fill="#fff" stroke="#111111" stroke-width="0.65"/>
<line x1="20.20" y1="417.24" x2="22.40" y2="417.24" stroke="#111111" stroke-width="0.6"/>
<circle cx="21.30" cy="416.50" r="0.72" fill="#111111"/>
<circle cx="20.70" cy="416.97" r="0.72" fill="#111111"/>
<circle cx="21.90" cy="417.43" r="0.72" fill="#111111"/>
<circle cx="21.30" cy="417.90" r="0.72" fill="#111111"/>
<ellipse cx="28.80" cy="417.40" rx="1.5" ry="1.0" fill="#e8242b"/>
<line x1="32.20" y1="410.60" x2="32.20" y2="416.00" stroke="#2828d8" stroke-width="0.5"/>
<rect x="30.75" y="411.57" width="2.9" height="3.62" fill="#fff" stroke="#2828d8" stroke-width="0.65"/>
<line x1="30.75" y1="413.38" x2="33.65" y2="413.38" stroke="#2828d8" stroke-width="0.6"/>
<circle cx="32.20" cy="411.10" r="0.72" fill="#2828d8"/>
<circle cx="31.60" cy="413.30" r="0.72" fill="#2828d8"/>
<circle cx="32.20" cy="415.50" r="0.72" fill="#2828d8"/>
<line x1="35.50" y1="408.60" x2="35.50" y2="415.40" stroke="#2fba7e" stroke-width="0.5"/>
<rect x="34.05" y="409.82" width="2.9" height="4.56" fill="#fff" stroke="#2fba7e" stroke-width="0.65"/>
<line x1="34.05" y1="412.10" x2="36.95" y2="412.10" stroke="#2fba7e" stroke-width="0.6"/>
<circle cx="35.50" cy="409.10" r="0.72" fill="#2fba7e"/>
<circle cx="34.90" cy="412.00" r="0.72" fill="#2fba7e"/>
<circle cx="35.50" cy="414.90" r="0.72" fill="#2fba7e"/>
<ellipse cx="41.70" cy="417.40" rx="1.5" ry="1.0" fill="#e8242b"/>
<line x1="45.00" y1="412.70" x2="45.00" y2="418.40" stroke="#2828d8" stroke-width="0.5"/>
<rect x="43.55" y="413.73" width="2.9" height="3.82" fill="#fff" stroke="#2828d8" stroke-width="0.65"/>
<line x1="43.55" y1="415.64" x2="46.45" y2="415.64" stroke="#2828d8" stroke-width="0.6"/>
<circle cx="45.00" cy="413.20" r="0.72" fill="#2828d8"/>
<circle cx="44.40" cy="415.55" r="0.72" fill="#2828d8"/>
<circle cx="45.00" cy="417.90" r="0.72" fill="#2828d8"/>
<ellipse cx="49.10" cy="412.80" rx="1.5" ry="1.00" fill="#2fba7e"/>
<line x1="55.20" y1="403.20" x2="55.20" y2="414.70" stroke="#e8242b" stroke-width="0.5"/>
<rect x="53.75" y="405.27" width="2.9" height="7.70" fill="#fff" stroke="#e8242b" stroke-width="0.65"/>
<line x1="53.75" y1="409.12" x2="56.65" y2="409.12" stroke="#e8242b" stroke-width="0.6"/>
<circle cx="55.20" cy="403.70" r="0.72" fill="#e8242b"/>
<circle cx="54.60" cy="406.32" r="0.72" fill="#e8242b"/>
<circle cx="55.80" cy="408.95" r="0.72" fill="#e8242b"/>
<circle cx="54.60" cy="411.57" r="0.72" fill="#e8242b"/>
<circle cx="55.20" cy="414.20" r="0.72" fill="#e8242b"/>
<line x1="58.60" y1="399.00" x2="58.60" y2="410.60" stroke="#2828d8" stroke-width="0.5"/>
<rect x="57.15" y="401.09" width="2.9" height="7.77" fill="#fff" stroke="#2828d8" stroke-width="0.65"/>
<line x1="57.15" y1="404.97" x2="60.05" y2="404.97" stroke="#2828d8" stroke-width="0.6"/>
<circle cx="58.60" cy="399.50" r="0.72" fill="#2828d8"/>
<circle cx="58.00" cy="402.15" r="0.72" fill="#2828d8"/>
<circle cx="59.20" cy="404.80" r="0.72" fill="#2828d8"/>
<circle cx="58.00" cy="407.45" r="0.72" fill="#2828d8"/>
<circle cx="58.60" cy="410.10" r="0.72" fill="#2828d8"/>
<line x1="62.70" y1="397.70" x2="62.70" y2="409.30" stroke="#2fba7e" stroke-width="0.5"/>
<rect x="61.25" y="399.79" width="2.9" height="7.77" fill="#fff" stroke="#2fba7e" stroke-width="0.65"/>
<line x1="61.25" y1="403.67" x2="64.15" y2="403.67" stroke="#2fba7e" stroke-width="0.6"/>
<circle cx="62.70" cy="398.20" r="0.72" fill="#2fba7e"/>
<circle cx="62.10" cy="400.85" r="0.72" fill="#2fba7e"/>
<circle cx="63.30" cy="403.50" r="0.72" fill="#2fba7e"/>
<circle cx="62.10" cy="406.15" r="0.72" fill="#2fba7e"/>
<circle cx="62.70" cy="408.80" r="0.72" fill="#2fba7e"/>
<ellipse cx="68.50" cy="417.40" rx="1.5" ry="1.0" fill="#e8242b"/>
<ellipse cx="72.20" cy="417.40" rx="1.5" ry="1.0" fill="#2828d8"/>
<ellipse cx="76.00" cy="417.40" rx="1.5" ry="1.0" fill="#2fba7e"/>
<text x="84.30" y="374.90" font-size="8.2" text-anchor="start" fill="#000">Q</text>
<text transform="translate(131.00,376.90) scale(1,1.1)" font-size="5.8" text-anchor="middle" fill="#000" stroke="#000" stroke-width="0.07"><tspan font-style="italic">Cd86</tspan> (B7-2)</text>
<line x1="100.50" y1="378.60" x2="100.50" y2="418.10" stroke="#444" stroke-width="0.6"/>
<line x1="100.50" y1="417.80" x2="158.50" y2="417.80" stroke="#555" stroke-width="0.7"/>
<line x1="99.10" y1="378.00" x2="100.50" y2="378.00" stroke="#222" stroke-width="0.5"/>
<text x="98.80" y="378.95" font-size="2.6" text-anchor="end" fill="#333">25</text>
<line x1="99.10" y1="386.40" x2="100.50" y2="386.40" stroke="#222" stroke-width="0.5"/>
<text x="98.80" y="387.35" font-size="2.6" text-anchor="end" fill="#333">20</text>
<line x1="99.10" y1="393.80" x2="100.50" y2="393.80" stroke="#222" stroke-width="0.5"/>
<text x="98.80" y="394.75" font-size="2.6" text-anchor="end" fill="#333">15</text>
<line x1="99.10" y1="402.10" x2="100.50" y2="402.10" stroke="#222" stroke-width="0.5"/>
<text x="98.80" y="403.05" font-size="2.6" text-anchor="end" fill="#333">10</text>
<line x1="99.10" y1="410.10" x2="100.50" y2="410.10" stroke="#222" stroke-width="0.5"/>
<text x="98.80" y="411.05" font-size="2.6" text-anchor="end" fill="#333">5</text>
<line x1="99.10" y1="417.90" x2="100.50" y2="417.90" stroke="#222" stroke-width="0.5"/>
<text x="98.80" y="418.85" font-size="2.6" text-anchor="end" fill="#333">0</text>
<text transform="translate(87.50,398.35) rotate(-90)" font-size="3.7" text-anchor="middle" fill="#111">Relative <tspan font-style="italic">Cd86</tspan> expression</text>
<text transform="translate(92.50,398.35) rotate(-90)" font-size="3.7" text-anchor="middle" fill="#111">(normalized by <tspan font-style="italic">Ubb</tspan>)</text>
<text transform="translate(104.90,421.30) rotate(-50)" font-size="3.9" text-anchor="end" fill="#000" stroke="#000" stroke-width="0.1">Whole tumor</text>
<text transform="translate(114.90,421.30) rotate(-50)" font-size="3.9" text-anchor="end" fill="#000" stroke="#000" stroke-width="0.1">CD8 T cells</text>
<text transform="translate(128.50,421.30) rotate(-50)" font-size="3.9" text-anchor="end" fill="#000" stroke="#000" stroke-width="0.1">Treg</text>
<text transform="translate(141.40,421.30) rotate(-50)" font-size="3.9" text-anchor="end" fill="#000" stroke="#000" stroke-width="0.1">Myeloid cells</text>
<text transform="translate(155.20,421.30) rotate(-50)" font-size="3.9" text-anchor="end" fill="#000" stroke="#000" stroke-width="0.1">NK cells</text>
<line x1="137.10" y1="382.70" x2="143.40" y2="382.70" stroke="#b4b4b4" stroke-width="0.4"/>
<line x1="137.10" y1="382.70" x2="137.10" y2="385.20" stroke="#b4b4b4" stroke-width="0.4"/>
<line x1="143.40" y1="382.70" x2="143.40" y2="385.20" stroke="#b4b4b4" stroke-width="0.4"/>
<circle cx="138.35" cy="380.40" r="0.56" fill="#000"/>
<circle cx="140.25" cy="380.40" r="0.56" fill="#000"/>
<circle cx="142.15" cy="380.40" r="0.56" fill="#000"/>
<line x1="140.20" y1="391.00" x2="143.40" y2="391.00" stroke="#b4b4b4" stroke-width="0.4"/>
<line x1="140.20" y1="391.00" x2="140.20" y2="393.50" stroke="#b4b4b4" stroke-width="0.4"/>
<line x1="143.40" y1="391.00" x2="143.40" y2="394.60" stroke="#b4b4b4" stroke-width="0.4"/>
<circle cx="138.95" cy="388.70" r="0.56" fill="#000"/>
<circle cx="140.85" cy="388.70" r="0.56" fill="#000"/>
<circle cx="142.75" cy="388.70" r="0.56" fill="#000"/>
<circle cx="144.65" cy="388.70" r="0.56" fill="#000"/>
<line x1="137.10" y1="400.30" x2="140.20" y2="400.30" stroke="#b4b4b4" stroke-width="0.4"/>
<line x1="137.10" y1="400.30" x2="137.10" y2="403.90" stroke="#b4b4b4" stroke-width="0.4"/>
<line x1="140.20" y1="400.30" x2="140.20" y2="405.00" stroke="#b4b4b4" stroke-width="0.4"/>
<circle cx="137.70" cy="398.00" r="0.56" fill="#000"/>
<circle cx="139.60" cy="398.00" r="0.56" fill="#000"/>
<line x1="103.70" y1="415.50" x2="103.70" y2="417.90" stroke="#111111" stroke-width="0.5"/>
<rect x="102.60" y="415.93" width="2.2" height="1.61" fill="#fff" stroke="#111111" stroke-width="0.65"/>
<line x1="102.60" y1="416.74" x2="104.80" y2="416.74" stroke="#111111" stroke-width="0.6"/>
<circle cx="103.70" cy="416.00" r="0.72" fill="#111111"/>
<circle cx="103.10" cy="416.47" r="0.72" fill="#111111"/>
<circle cx="104.30" cy="416.93" r="0.72" fill="#111111"/>
<circle cx="103.70" cy="417.40" r="0.72" fill="#111111"/>
<line x1="110.40" y1="407.30" x2="110.40" y2="416.00" stroke="#e8242b" stroke-width="0.5"/>
<rect x="108.95" y="408.87" width="2.9" height="5.83" fill="#fff" stroke="#e8242b" stroke-width="0.65"/>
<line x1="108.95" y1="411.78" x2="111.85" y2="411.78" stroke="#e8242b" stroke-width="0.6"/>
<circle cx="110.40" cy="407.80" r="0.72" fill="#e8242b"/>
<circle cx="109.80" cy="410.37" r="0.72" fill="#e8242b"/>
<circle cx="111.00" cy="412.93" r="0.72" fill="#e8242b"/>
<circle cx="110.40" cy="415.50" r="0.72" fill="#e8242b"/>
<line x1="113.70" y1="412.00" x2="113.70" y2="417.80" stroke="#2828d8" stroke-width="0.5"/>
<rect x="112.25" y="413.04" width="2.9" height="3.89" fill="#fff" stroke="#2828d8" stroke-width="0.65"/>
<line x1="112.25" y1="414.99" x2="115.15" y2="414.99" stroke="#2828d8" stroke-width="0.6"/>
<circle cx="113.70" cy="412.50" r="0.72" fill="#2828d8"/>
<circle cx="113.10" cy="414.90" r="0.72" fill="#2828d8"/>
<circle cx="113.70" cy="417.30" r="0.72" fill="#2828d8"/>
<line x1="117.00" y1="413.00" x2="117.00" y2="417.80" stroke="#2fba7e" stroke-width="0.5"/>
<rect x="115.55" y="413.86" width="2.9" height="3.22" fill="#fff" stroke="#2fba7e" stroke-width="0.65"/>
<line x1="115.55" y1="415.47" x2="118.45" y2="415.47" stroke="#2fba7e" stroke-width="0.6"/>
<circle cx="117.00" cy="413.50" r="0.72" fill="#2fba7e"/>
<circle cx="116.40" cy="415.40" r="0.72" fill="#2fba7e"/>
<circle cx="117.00" cy="417.30" r="0.72" fill="#2fba7e"/>
<ellipse cx="124.10" cy="417.40" rx="1.5" ry="1.0" fill="#e8242b"/>
<ellipse cx="127.30" cy="417.40" rx="1.5" ry="1.0" fill="#2828d8"/>
<ellipse cx="131.00" cy="417.40" rx="1.5" ry="1.0" fill="#2fba7e"/>
<line x1="137.10" y1="404.90" x2="137.10" y2="410.40" stroke="#e8242b" stroke-width="0.5"/>
<rect x="135.65" y="405.89" width="2.9" height="3.69" fill="#fff" stroke="#e8242b" stroke-width="0.65"/>
<line x1="135.65" y1="407.73" x2="138.55" y2="407.73" stroke="#e8242b" stroke-width="0.6"/>
<circle cx="137.10" cy="405.40" r="0.72" fill="#e8242b"/>
<circle cx="136.50" cy="407.65" r="0.72" fill="#e8242b"/>
<circle cx="137.10" cy="409.90" r="0.72" fill="#e8242b"/>
<line x1="140.20" y1="406.00" x2="140.20" y2="410.00" stroke="#2828d8" stroke-width="0.5"/>
<rect x="138.75" y="406.72" width="2.9" height="2.68" fill="#fff" stroke="#2828d8" stroke-width="0.65"/>
<line x1="138.75" y1="408.06" x2="141.65" y2="408.06" stroke="#2828d8" stroke-width="0.6"/>
<circle cx="140.20" cy="406.50" r="0.72" fill="#2828d8"/>
<circle cx="139.60" cy="408.00" r="0.72" fill="#2828d8"/>
<circle cx="140.20" cy="409.50" r="0.72" fill="#2828d8"/>
<line x1="143.40" y1="395.60" x2="143.40" y2="409.50" stroke="#2fba7e" stroke-width="0.5"/>
<rect x="141.95" y="398.10" width="2.9" height="9.31" fill="#fff" stroke="#2fba7e" stroke-width="0.65"/>
<line x1="141.95" y1="402.76" x2="144.85" y2="402.76" stroke="#2fba7e" stroke-width="0.6"/>
<circle cx="143.40" cy="396.10" r="0.72" fill="#2fba7e"/>
<circle cx="142.80" cy="398.68" r="0.72" fill="#2fba7e"/>
<circle cx="144.00" cy="401.26" r="0.72" fill="#2fba7e"/>
<circle cx="142.80" cy="403.84" r="0.72" fill="#2fba7e"/>
<circle cx="144.00" cy="406.42" r="0.72" fill="#2fba7e"/>
<circle cx="143.40" cy="409.00" r="0.72" fill="#2fba7e"/>
<ellipse cx="150.40" cy="417.40" rx="1.5" ry="1.0" fill="#e8242b"/>
<ellipse cx="154.00" cy="417.40" rx="1.5" ry="1.0" fill="#2828d8"/>
<ellipse cx="157.50" cy="417.40" rx="1.5" ry="1.0" fill="#2fba7e"/>
<rect x="184.4" y="369.70" width="11.2" height="4.6" rx="0.8" fill="#fff" stroke="#111111" stroke-width="1.3"/>
<text x="202.00" y="375.30" font-size="9.2" text-anchor="start" fill="#000" stroke="#000" stroke-width="0.15">Untreated</text>
<rect x="184.4" y="384.50" width="11.2" height="4.6" rx="0.8" fill="#fff" stroke="#e8242b" stroke-width="1.3"/>
<text x="202.00" y="390.10" font-size="9.2" text-anchor="start" fill="#000" stroke="#000" stroke-width="0.15">Isotype Control</text>
<rect x="184.4" y="399.30" width="11.2" height="4.6" rx="0.8" fill="#fff" stroke="#2828d8" stroke-width="1.3"/>
<text x="202.00" y="404.90" font-size="9.2" text-anchor="start" fill="#000" stroke="#000" stroke-width="0.15">Anti-PD-1</text>
<rect x="184.4" y="414.10" width="11.2" height="4.6" rx="0.8" fill="#fff" stroke="#2fba7e" stroke-width="1.3"/>
<text x="202.00" y="419.70" font-size="9.2" text-anchor="start" fill="#000" stroke="#000" stroke-width="0.15">Anti-TIGIT</text>
</svg></body></html>
